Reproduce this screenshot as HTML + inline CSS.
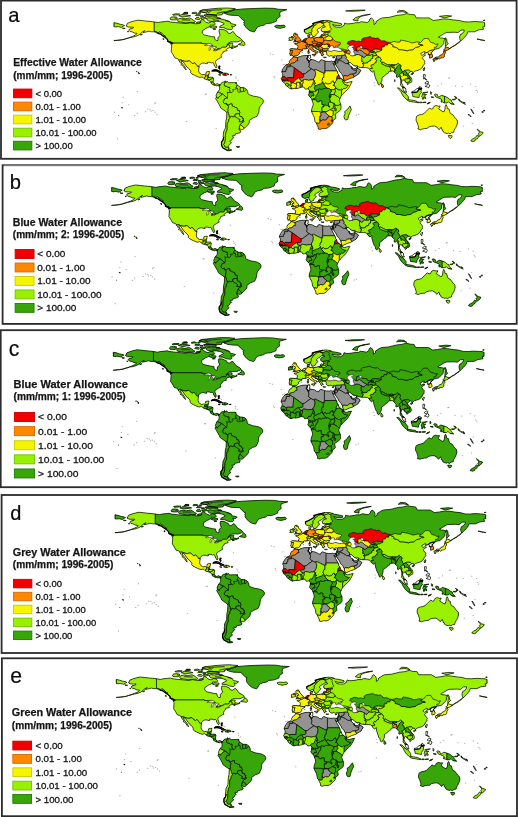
<!DOCTYPE html><html><head><meta charset="utf-8"><style>html,body{margin:0;padding:0;background:#fff;}svg{display:block;}.lt{font-family:"Liberation Sans",Arial,sans-serif;font-size:22px;fill:#0a0a0a;stroke:#0a0a0a;stroke-width:0.2px;}.tt{font-family:"Liberation Sans",Arial,sans-serif;font-size:10.3px;font-weight:bold;fill:#151515;stroke:#151515;stroke-width:0.25px;}.lg{font-family:"Liberation Sans",Arial,sans-serif;font-size:10px;fill:#151515;stroke:#151515;stroke-width:0.3px;}</style></head><body>
<svg width="518" height="817" viewBox="0 0 518 817">
<defs>
<path id="land" d="M-166.2 64.6 -163 64.5 -160.8 64.5 -161.5 63.5 -164.8 62.7 -165.5 61.5 -164.5 60.5 -162 59.8 -160 58.8 -157.5 58.5 -159 56.8 -162 55.5 -164.5 54.5 -162 54.8 -159 55.5 -156.5 56.5 -154 58.2 -153 59.5 -150 61.2 -151.8 59.2 -148 60 -146 60.6 -143.5 60 -141.3 60 -140 59.7 -138 59 -136.5 58.3 -135 58 -133 56.5 -131 55 -130 54.5 -128 52.5 -127.5 50.8 -125 50 -123 48.8 -124.7 48.4 -123.9 46.2 -124.1 44 -124.2 42 -124.4 40.4 -123.8 39.8 -122.5 37.8 -121.9 36.6 -120.6 34.5 -118.5 34 -117.3 33.2 -117.1 32.5 -115.8 30.4 -114.2 28.7 -115.1 27.9 -114.1 27.7 -112.2 25.9 -111.5 24.5 -109.9 22.9 -110.2 24.2 -111 25.8 -112.2 27.5 -113.5 29 -114.5 30.5 -114.8 31.8 -112.8 31.1 -111.5 29 -110 27 -109 25.6 -107.5 24.5 -106 22.8 -105.3 21.6 -105.6 20.4 -104.3 19.1 -102 17.9 -100.5 17.2 -98.5 16.3 -96.5 15.7 -94.5 16.2 -93.5 15.7 -92.3 14.5 -91.5 14 -90.1 13.8 -88.8 13.2 -87.5 12.9 -85.8 11.2 -85.7 9.9 -83.6 8.6 -82.9 8.2 -81.5 8 -80 7.4 -78.5 8.2 -77.9 7.2 -77.2 7.9 -77.4 8.7 -79.5 9.6 -81.5 9 -83 10 -83.7 11 -83.5 13 -83.2 15 -84 15.8 -86 15.9 -88.3 15.7 -88.2 16.2 -87.8 18.3 -87.4 20.2 -87.1 21.5 -89 21.4 -90.4 21 -90.5 19.5 -91.5 18.6 -92.5 18.6 -94.5 18.2 -95 18.6 -96.2 19.2 -97.2 20.5 -97.7 22 -97.6 24 -97.2 25.9 -97.3 27.4 -96.5 28.2 -95 29.2 -94 29.6 -92 29.6 -90.5 29.1 -89.2 29.1 -89.5 30.2 -88.5 30.4 -87 30.4 -85.4 29.7 -84 30.1 -82.8 29.1 -82.7 27.8 -81.8 26.4 -81.2 25.2 -80.4 25.2 -80.1 26.5 -80.6 28.4 -81.4 30.4 -81 31.9 -79.2 33.2 -78 33.9 -76.6 34.7 -75.5 35.2 -76 36.9 -75.9 37.2 -75.1 38.4 -74.9 38.9 -74 39.5 -74 40.6 -71.5 41.4 -70 41.8 -70.7 42.6 -70 43.7 -68.5 44.3 -67 44.8 -64.5 45.3 -66.2 44.7 -65.7 43.5 -63.5 44.5 -60 45.7 -60 46.9 -61.5 45.8 -64.5 46.2 -65 47.8 -64.5 48.8 -66 49.1 -68.5 48.5 -70.5 47.2 -68.5 49.2 -66.5 50.2 -64 50.2 -60 50.2 -57 51.4 -55.7 52.3 -57.5 54 -61 56 -62 57.5 -64.4 60.4 -65 59.8 -67.5 58.3 -69.5 59 -70 60.5 -71.5 61.2 -74 62.3 -77.5 62.5 -78 60.8 -77.5 58.5 -76.8 56.5 -79 54.5 -79 51.5 -80.6 51.3 -82 53 -82.3 55.1 -85 55.3 -88 56 -92.4 57 -94.2 58.8 -94 61.1 -90.7 63.3 -87 65 -86.5 66.5 -82.5 66.5 -81.5 67.5 -83 69.5 -85.5 69.8 -88 68.5 -91 69.5 -92.5 71 -94.5 72 -95.5 71.5 -96 69 -98 68 -101 67.8 -106 68.7 -110 68 -115 68.5 -120 69 -125 69.5 -127.5 70.3 -130 70 -134.5 69.5 -137 69 -141 69.6 -145 70.1 -148 70.3 -152 70.8 -156.8 71.3 -160 70.6 -163.5 69.6 -166.8 68.3 -168.1 65.6ZM-77.9 7.2 -77.3 6.5 -77.4 4 -78.5 2.5 -79.4 1.5 -80.1 0 -80.9 -2.2 -80.3 -3.4 -81.3 -4.7 -79.8 -7.2 -78.5 -9.5 -77.1 -12 -76.3 -14 -71.5 -17.3 -70.3 -18.4 -70.6 -23.5 -71.3 -27 -71.5 -30 -71.6 -33 -72.5 -35 -73.5 -37 -73.7 -39.5 -74 -42 -73.5 -42.5 -74 -45 -75.5 -47 -75.5 -50 -74.5 -52.5 -71 -54.5 -69.5 -55.3 -67.3 -55.5 -65.5 -54.8 -68.5 -53.5 -68.4 -52.3 -69 -51.6 -68.5 -50.2 -65.8 -47.8 -67.5 -46.3 -65.5 -45 -65 -43.5 -63.5 -42.7 -64 -42.2 -65 -41 -62.3 -40.5 -62 -39 -57.5 -38.1 -56.7 -36.4 -57.3 -36 -58.4 -34.6 -58.4 -34 -56.3 -34.9 -54.9 -34.9 -53.5 -33.8 -52 -32.2 -50 -30.5 -48.6 -28.5 -48.5 -26 -45 -23.7 -43.2 -23 -41 -22 -40.3 -20.3 -39.2 -17.8 -39 -15 -38.5 -13 -37 -11 -35.2 -9 -34.8 -7.1 -35.8 -5.2 -38.5 -3.7 -41.5 -2.9 -44.5 -2.5 -48.5 -1 -50 0 -50 1.8 -51.1 4 -52.5 5.2 -55 6 -57 6 -58.5 7 -60.5 8.5 -61 10 -62 10.7 -64 10.7 -66 10.6 -68.5 10.5 -70.2 12 -70.2 11.6 -71.6 10.8 -71.3 11.8 -71.9 12.4 -73 11.3 -74.5 11 -75.5 10.5 -76.5 8.5 -77.4 8.7ZM-5.9 35.8 -6.8 34 -8.5 33.2 -9.8 31 -9.6 30 -11 28.5 -12.9 27.9 -14.5 26.2 -16 24 -16.9 21.9 -17.05 20.8 -16.3 19.5 -16 18 -16.5 16.2 -17.5 14.7 -16.8 13 -16.7 12.3 -16.1 11.5 -15 10.9 -13.7 9.5 -13.1 8.2 -12.5 7.4 -11 6.5 -9.5 5.2 -7.5 4.4 -5 5.1 -3 5 -1 5.2 1 5.9 2.5 6.3 4.5 6.3 5.8 4.3 6.1 4.3 7.5 4.5 8.5 4.6 9.5 3.9 9.8 2.8 9.6 1 9.3 -0.5 8.8 -1.2 10 -3 11.8 -4.8 12.2 -6 13.2 -8.8 13.5 -11 12.2 -14.5 11.8 -17.3 13.5 -21 14.5 -22.9 15.2 -27 16.5 -28.6 17.3 -30.5 18.3 -32.5 18.4 -34.3 20 -34.8 22.5 -34 25.6 -34 27 -33.5 28.5 -32.5 30.5 -30.5 32.4 -28.5 32.9 -26 35.5 -24 35.3 -22 34.8 -19.8 36.5 -18.7 39.5 -16.5 40.5 -15 40.5 -11 39.3 -8 38.8 -6.5 39.7 -4.5 40.7 -2.3 42 -1 44 1.5 46.5 3.5 48 5.5 49.5 8 51.3 11.8 49 11.3 46 10.5 43.5 11.5 43.4 12.5 42 13.5 40.5 14.8 39 16 38.5 18 37.3 19.5 37.2 21 36.5 22.2 35.6 23.9 34.2 26.5 33.5 27.8 32.6 29.9 33.2 28.6 34.25 27.73 34.9 29.5 34.25 31.3 32.3 31.2 31 31.6 29.9 31.2 27 31.3 25.2 31.6 24 32.1 21.5 32.9 20.1 32 19.5 30.5 17.5 31 15.2 32.4 13.2 32.9 11.5 33.1 10.1 33.9 11 35.2 10.6 36.5 11.05 37.05 9.8 37.3 8.5 36.9 6.5 37 3.2 36.8 0 35.8 -1.8 35.1 -2.9 35.3 -5.3 35.9ZM-4.4 36.7 -2.2 36.7 -0.8 37.6 -0.5 38.3 0.2 38.7 -0.3 39.5 0 39.5 0.8 40.7 2.2 41.4 3.2 41.8 3.2 42.4 3 43 4 43.5 5.3 43.3 7 43.5 7.6 43.8 8.9 44.4 10 44 10.5 43.3 11 42.5 12.2 41.8 13 41.2 14.3 40.8 15.6 40 15.7 38.9 15.7 37.95 16.1 38 17.1 39 16.6 39.7 17.2 40.4 18.5 40.2 17.2 40.9 16.2 41.9 16 41.5 14.2 42.4 13.6 43.5 12.3 44.2 12.3 45.4 13.6 45.7 13.7 45.1 15 44.5 16 43.5 17.5 43 19 42.1 19.5 41.8 19.4 40.3 20.2 39.5 21 38.8 21.7 38.3 21.3 37.7 21.7 36.8 22.5 36.5 23 37.9 24 37.7 24 38 23 38.5 22.6 39.5 22.7 40.5 23.5 40.2 24 40.8 26 40.8 26.6 40.8 26.3 40.3 26.2 40 26.8 39.5 26.5 38.3 27.3 37.5 28 36.7 29.5 36.2 30.7 36.9 32 36.5 33 36.1 34.5 36.8 35.5 36.6 36.2 36.6 35.9 35.5 35.5 33.9 35 32.8 34.8 32.1 34.25 31.3 34.9 29.5 35 29.5 35.2 28 36.5 26 38 24 39.1 21.5 41 19.5 42.5 16.8 42.7 15.5 43.5 12.7 45 12.8 49 14.6 52.2 15.6 55.5 17.6 57.7 19 58.6 20.5 59.8 22.5 58.5 23.6 56.5 24.5 56.3 26.3 56 25.6 54.5 24.3 52.5 24.2 50.8 24.7 51.6 25.3 51 26.1 50.2 26 49.5 27 48.5 28 48 29.4 48.5 30 49.5 30.1 51 28.9 52.5 27.5 54.5 26.6 56.3 27.2 57.3 25.8 59 25.5 61.6 25.2 64.5 25.2 67 24.8 68.5 23.5 69 22.3 70.8 20.8 72.5 22.2 72.6 21.2 72.8 19 73.9 15.5 74.8 12.9 75.8 11.5 76.5 9 77.5 8.1 78.2 8.8 79.2 10.3 79.8 11.5 80.3 13.1 80.3 15.5 82.5 17 85 19.2 86.5 20 87 21.5 89 21.8 90.5 22 92 21.5 92.3 20.7 93.5 19.6 94.5 18.5 94.3 16 95.4 15.8 96.5 16.7 97.7 16 98.5 12.5 98.6 10 98.3 8 98.5 8 100.2 6.5 100.3 5.5 101.3 2.8 103.4 1.3 104.3 1.4 103.5 2.5 103.4 4.5 102.2 6.2 100.6 7 100.3 8.4 99.2 10.5 99.9 12.8 100.6 13.5 102.2 12.4 102.9 11.8 103.2 11 104.4 10.5 104.8 9.8 105 8.6 106.8 10 107 10.4 108.8 11 109.4 12.5 109.2 13.8 108.2 16 106.5 17.5 105.7 18.8 106 19.8 106.7 20.5 107.5 21 108.5 21.6 109.7 21.5 110.2 20.3 110.5 20.3 112 21.7 114.2 22.3 116 22.9 117.5 23.6 119.5 25.5 120.5 27.5 122 29.5 121.5 30 121.9 30.9 121.8 31.7 120.5 33 119.3 35 120.5 36 122.6 37.4 120.7 37.8 119 37.2 117.8 38.3 118 39 119.5 39.8 121 40.8 122.3 40.5 121.2 38.8 121.5 39 124.3 39.9 125.3 39.5 125 37.8 126.7 37.5 126.3 36 126.5 34.4 129 35.1 129.4 35.5 129.4 37 128 39.8 129.7 41 130.7 42.3 132 43.1 135.5 43.8 138.5 46.5 140.3 48.5 140.5 51 141.4 53.3 138.5 54 137 54 135 54.8 138 56.5 141 58.5 143.2 59.4 145 59.4 150.8 59.6 154 59.2 157 61.6 160 61.8 160 60.5 158 58 156.5 57.5 155.6 55 156 52.5 156.7 50.9 158.5 52.9 160 54.2 162 56.5 163 58 163.5 59.9 166 60 170 60 174 61.8 179 62.5 178 64.7 180 65 180 68.8 178 69.5 175 69.7 170 70 165 69.6 160 69.7 155 71 150 71.5 145 72.3 140 72.5 135 71.6 130 71 126 73.5 118 73.5 113.5 73.5 112 76.5 108 76.8 104.3 77.7 100 76.5 95 76 87 74 80.5 73.5 78 72.3 74.5 70 74.5 68.5 72.5 67 72.5 70 71.5 72 70 73.5 68.5 72.5 68 70.5 66 69 64 69.3 60.5 69.8 60 69.8 58 68.8 54.5 68.8 53 68.3 48 67.7 46 67.8 44 68.5 43.5 66.2 40.5 64.5 36.5 64.5 34 65 32.4 67.1 35 66.2 38.5 66 41.2 66.5 41 67.8 36 69 33 69.4 31 70.3 28 71 25.8 71.1 23.5 70.8 19 69.8 16 69 13 68 14 67.5 12.5 65.8 9 63.8 7.5 63 5 62 5 60.4 5.6 58.9 8 58.1 10.5 59.2 11.2 59 11.8 57.7 12.5 56.3 12.9 55.6 14.2 55.4 16 56.2 16.5 57.5 18.2 59.3 18.8 60 17.2 61 17.5 62.3 19 63.3 21 64.3 22 65.5 24 65.8 25.5 65 22.5 64 21.3 62.5 21.5 60.7 23 59.9 27 60.4 30.2 59.9 28 59.5 24.3 59.4 23.5 58.7 24.3 58 24.1 57 23.5 57 22 57.6 21 56.8 21 55.7 19.9 54.9 18.7 54.7 16 54.3 14.2 53.9 13 54.5 11 54 10 54.6 10 55.8 10.4 56.5 10.6 57.7 8.2 56.7 8.3 55.6 8.6 54 8 53.6 6.5 53.5 4.8 53 4 52 3.3 51.4 2.5 51.1 1.5 50.3 0 49.4 -1.6 49.7 -1.6 48.6 -3 48.8 -4.7 48.4 -2.5 47.3 -1.2 46 -1.8 43.4 -3 43.4 -5.7 43.6 -8 43.7 -9.3 43 -8.8 42 -8.9 40.2 -9.5 38.8 -8.8 38.7 -8.9 37 -7.4 37.2 -6.3 36.6 -5.6 36ZM-43 60.5 -42 62.5 -40.5 64.7 -38 65.6 -34 66.5 -32 68 -27.5 68.3 -24 69.5 -22 70.5 -21.8 72.5 -18.5 75 -19 77 -18.5 79.5 -12 81.5 -20 81.9 -25 82.8 -33 83 -45 82.6 -56 82.1 -64 81.2 -67 80 -73 78.5 -72.5 77.8 -68.7 76.5 -66 76 -59 75.8 -58 74.5 -56 72.8 -55 71.5 -53 70.5 -54 69.5 -53.5 68.5 -53.7 66.9 -51.7 64.2 -50 62.5 -48 61 -43.9 59.8ZM-21.5 63.8 -18.5 63.4 -14.5 64.3 -13.5 65.2 -15 66.5 -18 66.1 -22 66.4 -24 65.5 -22.5 64ZM-90 73 -89.5 71.5 -88 70.5 -84.5 70 -80 70.2 -76.5 69.6 -73.5 68.5 -73 67.5 -77 65.5 -77.5 64.3 -73.5 64 -70 62.5 -66 62 -64.8 63.2 -65 64.5 -66 65.5 -63.5 65 -61.3 66.6 -62 67 -66.5 68 -67 69.5 -69 70.5 -72 71.5 -76 72.5 -80 73.7 -85 73.2 -88 73.7ZM-75 77.5 -73 78.5 -69 80.2 -64 81.5 -62 82.5 -70 83.1 -78 82.9 -85 82.3 -94 81.3 -97 80 -91 78.5 -89.5 77 -83 76.4 -79.5 76.2 -75 76.5ZM-80 75.5 -82 76.2 -88 76.7 -92.5 76 -91 74.7 -84 74.5 -80 74.6ZM-100.9 70 -102.5 71 -104.5 72.5 -106.5 73.5 -110.5 72.7 -114 73.3 -117.5 72.5 -118.6 71.3 -117.5 69.8 -114 69.3 -110 68.6 -105.5 69.1 -101.5 69ZM-125 71.9 -122.5 71.5 -120 71.6 -118.5 72.5 -118.8 74.2 -121.5 74.5 -124.5 74.3 -125.5 72.5ZM-96.5 72.8 -97.5 73.8 -100 73.8 -101 72.4 -97 71.8ZM-90.2 73 -91 74 -96 73.5 -94 72.1ZM-108 76.2 -114 76.8 -117 75.5 -113 74.4 -105.5 75.5ZM-96 76.5 -100 76.8 -101 75.8 -97 75.5ZM-84 63.5 -80.5 63.8 -80.2 65.3 -84.5 65.7 -87 64.7ZM-59.3 47.6 -55.5 47 -53.5 46.7 -52.7 47.6 -53 49.5 -55.5 51.6 -56 49.5 -59.4 47.6ZM-124.5 49.5 -126.5 50.6 -128.3 50.8 -125 48.8 -123.3 48.4ZM-83 22 -81.5 22.1 -79.5 21.6 -77.7 20.7 -77.5 19.9 -75.5 19.9 -74.1 20.2 -75.5 20.7 -77.5 21.8 -80 23 -82 23.2 -84 22.7 -84.9 21.9ZM-74.4 18.1 -71.5 17.6 -70 18.2 -68.3 18.6 -69.9 19.7 -72.8 19.9 -74.5 18.4ZM-78.2 18.1 -76.4 17.8 -76.2 18.2 -78.3 18.4ZM-67.2 18 -65.7 18 -65.6 18.4 -67.2 18.5ZM48 -13.5 46.5 -15.6 44 -17.5 44.5 -19.5 43.3 -22 44 -24.8 45.1 -25.6 47 -25.1 48 -21 49.5 -17.5 50.5 -15.5 49.3 -12ZM-5.7 50.1 -3.5 50.3 -1 50.7 1.4 51.2 1.7 52.5 0.2 53.5 -0.1 54.5 -1.6 55.6 -2.1 57.2 -1.8 57.6 -4 57.6 -3 58.65 -5 58.6 -5.8 57 -5.5 56 -4.9 55.2 -3.5 54.9 -3.2 54.2 -3 53.4 -4.6 53.3 -4.2 52.6 -5.2 51.8 -3.2 51.4 -4.4 51.1ZM-6 52.2 -6.2 53.3 -5.5 54.5 -6.2 55.2 -7.3 55.4 -8.5 54.7 -10 54.2 -10 53 -9.3 52.6 -10.4 51.9 -9.5 51.5 -8 51.8ZM12.5 37.6 15.1 36.7 15.6 38.3 12.4 38ZM8.4 40 8.5 38.9 9.7 39.2 9.6 41.1 8.2 41ZM8.6 41.9 9.2 41.4 9.5 42.2 9.3 43ZM23.5 35.2 24.5 34.9 26.3 35.2 23.5 35.5ZM33 34.6 34 34.9 34.6 35.7 32.3 34.9ZM50 79.9 58 80.2 64 81 60 81.1 52 80.9 45 80.3ZM52 71.5 57 70.5 57 73 60 75 69 77 63 76.3 55 74 53 72.5ZM95 79 100 79.5 105 78.5 102 80.5 97 80.8ZM141 73.5 148 75.3 143 75.8 136 75ZM180 70.9 180 71.5 178.5 71ZM131.5 33.9 133 34.3 135 34.3 135.8 33.5 136.8 34 137 34.6 139 34.7 139.8 35 140.8 35.7 140.9 36.9 141 38.3 142 39.5 141.5 41.4 140 41.2 140 39.8 138.5 37.8 136.5 37.2 135.5 35.6 133 35.5 131.5 34.7 130.9 34ZM141.5 43.3 140 42.5 141 41.5 143.5 42 145.8 43.4 145.5 44.3 141.7 45.5ZM129.6 33.3 130.1 32.5 130.5 31 131.3 31.4 132 33 131 34 130 33.5ZM133 32.7 134.2 33.3 134.7 34 132.9 34 132.5 33.3ZM141.7 53.3 142.2 51.5 142 48 141.9 46 142.6 46.5 144.7 48.7 143.5 49.5 143.2 52.5 142 54.3ZM120.2 24 120.2 22.8 121 22 122 25 121.5 25.3ZM108.6 18.5 109.5 18.2 111 19.6 110.5 20.1 108.7 19.3ZM120.6 16 120.6 14.2 122 14.8 123.5 13.8 124 13 122 14 121.6 15.3 122.2 16.3 122.3 18.4 120.6 18.5ZM124 6.5 125.5 5.7 126.5 7.5 125.5 9.5 123.5 7.8 122 7ZM122 9.8 123 9.2 125 10 125.5 11.5 124 11.8 122 10.5ZM109 1.5 110 -1.5 110.2 -2.9 114 -3.5 116.2 -3.9 116.5 -2 117.5 0 118.8 1 118 2.3 119.2 5.3 117 6.9 115.5 5.2 113.8 4.5 111.5 2.5 109.6 2ZM98.5 2 99.5 0 101 -2.5 102.3 -4 104.5 -5.9 105.8 -5.8 106 -3.2 104.6 -1.5 103.7 0 100.5 2 97.5 5.2 95.3 5.6ZM106.5 -7.4 108 -7.8 111 -8.2 114.5 -8.7 114.4 -7.7 112.5 -6.9 110.5 -6.5 108.3 -6.2 106 -5.9 105.2 -6.8ZM114.6 -8.8 116 -8.9 116.2 -8.3 115 -8.1ZM116.8 -9 119 -8.8 119 -8.2 116.8 -8.3ZM119.8 -8.8 123 -8.7 123 -8.1 119.8 -8.4ZM124.2 -10.2 126 -9.4 127.3 -8.4 125.2 -9 124 -10ZM119.8 0 118.8 -2.8 119.5 -3.5 119.4 -5.4 120.4 -5.5 121 -3 122 -5 123 -4.5 121.5 -2 123.5 -0.9 120.5 -0.8 121.5 0.5 124.9 1.5 120 1ZM127.4 0 128 -0.8 128.5 1 127.5 2ZM128 -3.6 130.5 -3.9 130.5 -3.3 128 -3ZM132.5 -2.3 132 -2.8 133.5 -3.8 135 -4.3 137.7 -5.3 138.7 -7.2 137.5 -7 138 -8.4 139 -8.1 141 -9.1 143.5 -9 145 -8 147 -10 150.5 -10.5 148 -8 147.5 -6.2 145.8 -5.5 144 -3.8 141 -2.6 138 -1.7 135.5 -3.4 134.5 -2.8 134 -0.9 132 -0.4 131 -1.3ZM148.5 -6 151 -6.2 152.3 -4.8 152 -4.2 150.5 -5.5 148.5 -5.5ZM155 -6.8 157 -8.2 160 -10 161.5 -10.3 160 -9 157 -7.5 155 -6ZM167 -16 168.8 -19.2 169.5 -19.5 168.5 -17.5 167.5 -15.5 166.5 -15ZM164.2 -20.8 166.4 -22.3 167 -22.2 165 -20.5 164 -20.2ZM177.3 -18.2 178.6 -18.2 178.5 -17.3 177.3 -17.5ZM179 -16.9 180 -16.9 180 -16.1 178.8 -16.3ZM79.8 8 79.8 6.8 80.5 5.9 81.5 6.2 81.9 7.3 79.9 9.8ZM141.6 -12.5 141.5 -15 140.5 -17.6 139.3 -17.5 137.5 -16.3 135.4 -15 136 -13.5 136.8 -12 135 -12.2 133.5 -11.8 132.5 -11.6 130.8 -12.4 130.2 -13.3 129.5 -14.9 128.2 -15 126.5 -14 125 -15.5 123.5 -17 122.3 -18 121 -19.5 118.5 -20.3 116.5 -20.6 114.1 -21.8 113.8 -22.5 113.4 -24.5 113.5 -26.5 114.6 -28.5 115 -30 115.7 -31.8 115.7 -33.3 115.1 -34.3 117.8 -35.1 119 -34.5 121.8 -33.9 124 -33.8 126 -32.3 128.5 -31.7 131.5 -31.5 134.2 -33 135.6 -34.9 136 -34.8 137.8 -32.6 137.8 -33.2 138.5 -34.5 138.5 -35.5 139.5 -35.8 139.8 -37.3 141 -38.1 143.5 -38.8 144.6 -38.3 146.3 -39.1 148 -37.8 150 -37.5 150.2 -35.8 151.3 -33.9 152 -32.8 153 -30.5 153.6 -28.2 153.2 -25.5 151.5 -24 150.5 -22.5 148.8 -20.3 146.8 -19.3 146.5 -19 146 -17.5 145.4 -15 143.6 -14.5 143.5 -12.5 142.5 -10.7ZM145.5 -42.8 147 -43.6 148.3 -42.2 148.3 -40.9 144.6 -40.7ZM173 -35.2 174.5 -36.8 174.7 -38 173.8 -39.2 174.1 -39.5 174.7 -41.2 175.2 -41.6 176.5 -40.1 177.9 -39.1 178.5 -37.7 175.8 -37 174.5 -35.8 172.7 -34.4ZM172.1 -40.9 171.5 -41.8 170.5 -43 168.3 -44 167 -45 166.5 -46 169 -46.6 170.6 -45.9 171.2 -44.5 172.8 -43.8 173.5 -42.8 174.3 -41.5 172.7 -40.5ZM-156 19.7 -155.8 18.9 -155 19.8 -156 20.3ZM-60.5 -52.2 -58.3 -52.2 -58 -51.3 -61.3 -51.3ZM-180 65 -178.5 64.7 -176 65 -173 64.3 -171 65.4 -169.7 66.1 -171.5 66.9 -174 67.3 -177 68.3 -180 68.9ZM-122.5 76.1 -117 76.5 -116 77.3 -120 77.5 -123 76.8ZM-113 77.5 -108 77.8 -110 78.3 -113 78ZM-111 78.4 -108 78.5 -109 79 -112 78.8ZM-104 77.6 -99 78 -101 79 -104 78.6ZM-98 77.7 -95.5 78 -96 78.6 -98 78.5ZM-95 79 -91 78.8 -88.5 79.5 -90 80.5 -93 81.2 -96 80.5 -96.5 79.5ZM-96 74.8 -93 74.8 -93 75.6 -96 75.6ZM-100 68.5 -96 68.5 -95.5 69.5 -97 69.8 -99.5 69.3ZM-80 72.8 -76 72.8 -77.5 73.7 -80 73.5ZM-83.5 62.2 -81 62.5 -82 63 -83.5 62.8ZM-132.5 52.9 -131.5 52.2 -131.5 53.3 -132.5 53.2ZM-154 56.8 -152.5 57.4 -152.5 57.9 -154.5 57.2ZM-166 59.8 -165.8 60.4 -167 60.2ZM-171.5 63.3 -170.5 63 -169 63.3 -171.8 63.8ZM-77.8 25.2 -77 26.6 -77.5 26.8 -78.3 25.5ZM-78 24 -77.6 23.8 -77.2 24.9 -77.8 24.8ZM-61.9 10 -60.9 10.1 -61 10.8 -61.9 10.1ZM151.5 -3.8 152.7 -4.6 153.2 -4.8 152.5 -3.5 150.5 -2.6ZM154.6 -5.8 155.6 -6.9 155.9 -6.4 154.6 -5.2ZM-158.2 21.3 -157.7 21.3 -157.6 21.7 -158.3 21.6ZM-156.5 20.6 -156.1 20.6 -156 20.8 -156.7 20.9ZM145.8 43.6 147 44.2 148.9 45.5 150.5 46.3 152 47.2 153.5 48.4 155 49.4 156.3 50.6 155.8 50.7 154.5 49.6 153 48.6 151.5 47.4 150 46.5 148.5 45.6 146.8 44.4 145.6 43.8ZM-164.5 54.5 -166 54 -168 53.5 -170 52.8 -172 52.4 -174 52.1 -176 51.9 -178 51.7 -180 51.6 -180 51.4 -178 51.5 -176 51.7 -174 51.9 -172 52.2 -170 52.6 -168 53.3 -166 53.8 -164.6 54.3ZM180 51.6 178 52 176 52.3 173.5 52.9 172.5 53 172.6 52.8 174 52.7 176 52.1 178 51.8 180 51.4ZM92.5 11.7 92.8 11.5 93 13.2 92.6 13.6ZM159.5 -8.7 160.6 -9.2 160.8 -8.8 159.5 -8.2ZM-172.7 -13.8 -171.4 -13.9 -172.8 -13.5ZM-175.3 -21.3 -175 -21.2 -175.4 -21.1Z"/>
<clipPath id="lc"><use href="#land"/></clipPath>
<path id="thick" d="M-83 22 -81.5 22.1 -79.5 21.6 -77.7 20.7 -77.5 19.9 -75.5 19.9 -74.1 20.2 -75.5 20.7 -77.5 21.8 -80 23 -82 23.2 -84 22.7 -84.9 21.9ZM-77.8 25.2 -77 26.6 -77.5 26.8 -78.3 25.5ZM-78 24 -77.6 23.8 -77.2 24.9 -77.8 24.8Z"/>
<path id="dots" d="M-179.5 -18.4 -179.1 -18 -179.5 -17.6 -179.9 -18ZM-149.5 -18 -149.1 -17.6 -149.5 -17.2 -149.9 -17.6ZM-145 -15.9 -144.6 -15.5 -145 -15.1 -145.4 -15.5ZM-142 -16.9 -141.6 -16.5 -142 -16.1 -142.4 -16.5ZM-140 -18.4 -139.6 -18 -140 -17.6 -140.4 -18ZM-138 -20.4 -137.6 -20 -138 -19.6 -138.4 -20ZM-144 -17.4 -143.6 -17 -144 -16.6 -144.4 -17ZM-147 -15.4 -146.6 -15 -147 -14.6 -147.4 -15ZM-139.5 -9.4 -139.1 -9 -139.5 -8.6 -139.9 -9ZM-140.2 -10.2 -139.8 -9.8 -140.2 -9.4 -140.6 -9.8ZM-109.4 -27.5 -109 -27.1 -109.4 -26.7 -109.8 -27.1ZM-176.5 -44.4 -176.1 -44 -176.5 -43.6 -176.9 -44ZM-159.8 -21.6 -159.4 -21.2 -159.8 -20.8 -160.2 -21.2ZM-157.5 -19.4 -157.1 -19 -157.5 -18.6 -157.9 -19ZM-165.8 -11.3 -165.4 -10.9 -165.8 -10.5 -166.2 -10.9ZM-157.3 1.5 -156.9 1.9 -157.3 2.3 -157.7 1.9ZM-172 -9.4 -171.6 -9 -172 -8.6 -172.4 -9ZM-171 -3.9 -170.6 -3.5 -171 -3.1 -171.4 -3.5ZM169.5 -13.9 169.9 -13.5 169.5 -13.1 169.1 -13.5ZM173 1.1 173.4 1.5 173 1.9 172.6 1.5ZM172 2.6 172.4 3 172 3.4 171.6 3ZM166.5 8.8 166.9 9.2 166.5 9.6 166.1 9.2ZM171 6.6 171.4 7 171 7.4 170.6 7ZM158.2 6.5 158.6 6.9 158.2 7.3 157.8 6.9ZM151.8 7 152.2 7.4 151.8 7.8 151.4 7.4ZM145 14.6 145.4 15 145 15.4 144.6 15ZM145.7 14.8 146.1 15.2 145.7 15.6 145.3 15.2ZM138 9.1 138.4 9.5 138 9.9 137.6 9.5ZM134.5 7.1 134.9 7.5 134.5 7.9 134.1 7.5ZM167.9 -29.4 168.3 -29 167.9 -28.6 167.5 -29ZM159.1 -31.9 159.5 -31.5 159.1 -31.1 158.7 -31.5ZM-25.5 37.4 -25.1 37.8 -25.5 38.2 -25.9 37.8ZM-28 38.2 -27.6 38.6 -28 39 -28.4 38.6ZM-16.9 32.3 -16.5 32.7 -16.9 33.1 -17.3 32.7ZM-15.5 27.6 -15.1 28 -15.5 28.4 -15.9 28ZM-14 28 -13.6 28.4 -14 28.8 -14.4 28.4ZM-23.7 14.7 -23.3 15.1 -23.7 15.5 -24.1 15.1ZM-24.4 16.2 -24 16.6 -24.4 17 -24.8 16.6ZM-5.7 -16.3 -5.3 -15.9 -5.7 -15.5 -6.1 -15.9ZM55.5 -21.4 55.9 -21 55.5 -20.6 55.1 -21ZM57.6 -20.6 58 -20.2 57.6 -19.8 57.2 -20.2ZM73.3 7.1 73.7 7.5 73.3 7.9 72.9 7.5ZM72.6 10.1 73 10.5 72.6 10.9 72.2 10.5ZM72.4 -7.7 72.8 -7.3 72.4 -6.9 72 -7.3ZM-90.4 -0.9 -90 -0.5 -90.4 -0.1 -90.8 -0.5ZM-91.2 -1 -90.8 -0.6 -91.2 -0.2 -91.6 -0.6ZM-80.8 -34.1 -80.4 -33.7 -80.8 -33.3 -81.2 -33.7ZM-59.5 12.7 -59.1 13.1 -59.5 13.5 -59.9 13.1ZM-61.5 15.8 -61.1 16.2 -61.5 16.6 -61.9 16.2ZM-61.2 14.2 -60.8 14.6 -61.2 15 -61.6 14.6ZM-64.8 31.9 -64.4 32.3 -64.8 32.7 -65.2 32.3ZM14.4 35.5 14.8 35.9 14.4 36.3 14 35.9ZM3 39.2 3.4 39.6 3 40 2.6 39.6ZM2.8 39.5 3.2 39.9 2.8 40.3 2.4 39.9ZM-78.5 26.3 -78.1 26.7 -78.5 27.1 -78.9 26.7ZM-76.5 23.6 -76.1 24 -76.5 24.4 -76.9 24ZM-75 22.6 -74.6 23 -75 23.4 -75.4 23Z"/>
<path id="heavy" d="M-123 48.8 -125 50 -127.5 50.8 -128 52.5 -130 54.5 -131 55 -133 56.5 -135 58 -136.5 58.3 -138 59M5 60.4 5 62 7.5 63 9 63.8 12.5 65.8 14 67.5 13 68 16 69 19 69.8 23.5 70.8M-73.5 -42.5 -74 -45 -75.5 -47 -75.5 -50 -74.5 -52.5 -71 -54.5 -69.5 -55.3"/>
<path id="water" d="M28 41.3 29 41.2 31.5 41.2 33.5 42 35.5 41.7 38 41 40 41 41.5 41.5 41.7 42.3 40 43.4 38.5 44.3 37.5 44.7 36.5 45.2 35.5 45 33.5 44.4 32.5 45.3 33.5 46 31.5 46.6 30.2 45.8 29.6 45 28.6 44 28 42.8ZM35 45.5 36.5 45.3 38.3 46.5 39.2 47.2 37.5 47 35.2 46.3ZM47.5 43 49 41.7 49.5 40.3 49 38.5 49 37.5 51 36.7 54 37 53.8 39 53 40 52.8 41.5 54.5 42 52.5 42.9 52.5 44.5 51 45 53 45.2 53 46.8 51 47 49 46.5 47.5 45.5 47 44ZM59 44.2 60.5 43.8 61.5 45 60.2 46.3 58.5 46ZM-90 46.6 -88 47 -86.5 46.4 -84.6 46.5 -85 48 -88 48.8 -89.5 48 -92.1 46.7ZM-87.8 42 -86.5 42.2 -86 44.5 -85 45.8 -86.5 45.8 -87.5 44.5ZM-84.5 45.5 -83.5 44 -82.4 43 -81.6 44.5 -80 45 -81.5 45.8 -84.5 46ZM-81 41.5 -78.9 42.6 -79 42.9 -81 42.5 -83.4 41.7ZM-79 43.2 -76.2 43.4 -76.3 44 -79.8 43.3ZM-92 76.35 -80 76.05 -80 76.3 -92 76.6ZM-88 78.4 -85.6 80.4 -86.2 80.4 -88.6 78.4ZM-80 77.8 -72 79.5 -72 79.8 -80 78.1ZM-90 80.5 -75 81.3 -75 81.6 -90 80.8ZM-72 70.8 -68 69.6 -67.8 69.9 -71.8 71.1ZM-84 71.5 -78 70.8 -78 71.1 -84 71.8ZM-114 71.5 -106 71.2 -106 71.5 -114 71.8ZM-121 73.2 -119.5 73 -119.5 73.3 -121 73.5Z"/>
<path id="k_CAN" d="M-141 60.3 -139 60.1 -137.5 59 -135.5 59.8 -133.5 58.5 -131.5 56.5 -130 55.9 -130.7 54.7 -134 53 -126 48 -123.2 48.3 -123.3 49 -95.2 49 -95.2 49.4 -94.8 48.7 -91 48.2 -89.5 48 -88 48.2 -85 46.8 -84.4 46.5 -82.5 45.3 -82.4 43 -83 42.3 -81 42.2 -79 42.8 -79.2 43.4 -76.8 43.6 -76.2 44.2 -74.7 45 -71.5 45 -70.7 45.4 -70 46.7 -69.2 47.4 -67.8 47.1 -67.8 45.7 -66.9 44.6 -60 43 -50 45 -50 84 -141 84Z"/>
<path id="k_USA" d="M-125 30 -117.1 32.5 -114.7 32.7 -114.8 32.5 -111 31.3 -108.2 31.3 -108.2 31.8 -106.5 31.8 -104.5 29.6 -103 29 -102.4 29.8 -101.4 29.8 -100.3 28.3 -99.5 27.5 -99.1 26.5 -97.2 25.9 -80 24 -75 24 -60 40 -66.9 44.6 -67.8 45.7 -67.8 47.1 -69.2 47.4 -70 46.7 -70.7 45.4 -71.5 45 -74.7 45 -76.2 44.2 -76.8 43.6 -79.2 43.4 -79 42.8 -81 42.2 -83 42.3 -82.4 43 -82.5 45.3 -84.4 46.5 -85 46.8 -88 48.2 -89.5 48 -91 48.2 -94.8 48.7 -95.2 49.4 -95.2 49 -123.3 49 -123.2 48.25 -124.8 48.45 -130 47 -130 40Z"/>
<path id="k_USA_1" d="M-180 50 -134 53 -130.7 54.7 -130 55.9 -131.5 56.5 -133.5 58.5 -135.5 59.8 -137.5 59 -139 60.1 -141 60.3 -141 75 -180 75Z"/>
<path id="k_USA_2" d="M-161 18 -154 18 -154 23 -161 23Z"/>
<path id="k_MEX" d="M-125 30 -120 20 -95 10 -92.2 14.5 -92.2 15.3 -91.7 16.1 -90.4 16.1 -91.4 17.25 -90.98 17.25 -90.98 17.8 -89.15 17.8 -88.3 18.5 -87.5 18.5 -86 21.5 -90 26 -97.2 25.9 -99.1 26.5 -99.5 27.5 -100.3 28.3 -101.4 29.8 -102.4 29.8 -103 29 -104.5 29.6 -106.5 31.8 -108.2 31.8 -108.2 31.3 -111 31.3 -114.8 32.5 -114.7 32.7 -117.1 32.5Z"/>
<path id="k_GTM" d="M-92 12 -90.1 13.75 -89.35 14.4 -89.2 14.6 -88.2 15.7 -89.2 15.9 -89.15 17.8 -90.98 17.8 -90.98 17.25 -91.4 17.25 -90.4 16.1 -91.7 16.1 -92.2 15.3 -92.2 14.5Z"/>
<path id="k_BLZ" d="M-89.2 15.9 -87.5 16 -87.3 18.5 -88.3 18.5 -89.15 17.8Z"/>
<path id="k_HND" d="M-89.35 14.4 -88.5 13.9 -87.7 13.3 -87.3 13 -86.8 13.8 -85.7 13.9 -84.5 14.8 -83.2 15 -83 16.5 -87 17 -88.2 15.7 -89.2 14.6Z"/>
<path id="k_SLV" d="M-91 12.5 -88 12.5 -87.7 13.3 -88.5 13.9 -89.35 14.4 -90.1 13.75Z"/>
<path id="k_NIC" d="M-88 12.5 -86 10.5 -85.7 11.1 -83.7 10.9 -82 10.9 -82 15 -83.2 15 -84.5 14.8 -85.7 13.9 -86.8 13.8 -87.3 13 -87.7 13.3Z"/>
<path id="k_CRI" d="M-86 10.5 -86 8 -82.9 8 -82.6 9.6 -82 10.9 -83.7 10.9 -85.7 11.1Z"/>
<path id="k_PAN" d="M-82.9 8 -78 6 -77.9 7.2 -77.15 7.9 -77.4 9.6 -82 10.9 -82.6 9.6Z"/>
<path id="k_CUB" d="M-85.5 21 -78 19.5 -74 19.6 -74 20.5 -80 23.8 -85 23.5 -85.5 21.5Z"/>
<path id="k_HTI" d="M-71.7 17.5 -71.7 20.2 -75 20.2 -75 17.5Z"/>
<path id="k_DOM" d="M-68 17.5 -68 20.2 -71.7 20.2 -71.7 17.5Z"/>
<path id="k_JAM" d="M-76 17.6 -76 18.7 -78.6 18.7 -78.6 17.6Z"/>
<path id="k_PRI" d="M-65.3 17.8 -65.3 18.7 -67.5 18.7 -67.5 17.8Z"/>
<path id="k_GRL" d="M-68 75.5 -64 73.5 -61 70 -58.5 66.5 -55 62 -45 59 -10 59 -10 85 -58 85 -58 82.6 -63.5 81.3 -66.5 80.1 -72 78.5 -75 77.3Z"/>
<path id="k_ISL" d="M-25 62.5 -12 62.5 -12 67 -25 67Z"/>
<path id="k_BRA" d="M-75 -2 -69.9 -4.2 -70.8 -4.3 -72.9 -5.2 -73.3 -6.6 -74 -7.5 -73.5 -9 -72.2 -10 -70.6 -9.5 -70.6 -11 -69.5 -11 -68.6 -11 -66.5 -9.9 -65.3 -10 -65.3 -11.9 -64.3 -12.5 -63.5 -12.6 -62 -13.5 -60.5 -13.8 -60.2 -15.1 -60.1 -16.3 -58.4 -16.3 -58.3 -17.5 -57.6 -18 -58.2 -19.8 -57.8 -22.1 -55.8 -22.3 -55.4 -24 -54.3 -24.1 -54.6 -25.6 -53.8 -27.1 -55.8 -28.3 -57.6 -30.2 -56 -30.9 -53.4 -33.7 -30 -35 -30 6 -75 6Z"/>
<path id="k_COL" d="M-77.4 9.6 -77.15 7.9 -77.9 7.2 -82 5 -82 1 -78.8 1.4 -77.4 0.8 -75.8 0.1 -75.2 -0.1 -73.5 -1.2 -72 -2.5 -70.5 -3.8 -69.9 -4.2 -69.5 -1 -69.9 1.7 -69.5 1 -66.9 1.2 -67.3 2.3 -67.8 4 -67.3 5 -67.8 6.3 -69.4 6.1 -70 6.9 -71 7 -72.4 7.4 -72.5 8.2 -73 9.2 -72.5 10 -72.2 11.1 -71.1 11.85 -71 13 -77 13Z"/>
<path id="k_VEN" d="M-71.1 11.85 -72.2 11.1 -72.5 10 -73 9.2 -72.5 8.2 -72.4 7.4 -71 7 -70 6.9 -69.4 6.1 -67.8 6.3 -67.3 5 -67.8 4 -67.3 2.3 -66.9 1.2 -65.5 0.9 -64 2.4 -64.8 4 -64 4.1 -62.7 4 -60.1 5.2 -60.8 5.2 -61.4 5.9 -60.7 7.5 -59.8 8.4 -58 9.5 -60 13 -70 13Z"/>
<path id="k_GUY" d="M-59.8 8.4 -60.7 7.5 -61.4 5.9 -60.8 5.2 -60.1 5.2 -59.8 4.2 -59.5 3.5 -59.9 2.5 -59.7 1.8 -58.5 1.3 -56.5 1.9 -57.5 3.5 -57.2 5.2 -57.1 6 -57 9 -58 9.5Z"/>
<path id="k_SUR" d="M-57.1 6 -57.2 5.2 -57.5 3.5 -56.5 1.9 -55.9 1.9 -54.2 2.1 -54 3.6 -54.4 4.5 -54 5.7 -54 8 -57 8Z"/>
<path id="k_GUF" d="M-54 5.7 -54.4 4.5 -54 3.6 -54.2 2.1 -52.9 2.2 -52.3 3.2 -51.6 4.2 -50 6 -54 8Z"/>
<path id="k_ECU" d="M-83 2 -83 -3 -80.3 -3.4 -79.5 -4.5 -78.7 -4.6 -78.3 -3.5 -77 -2.5 -75.6 -1.5 -75.2 -0.1 -75.8 0.1 -77.4 0.8 -78.8 1.4Z"/>
<path id="k_PER" d="M-85 -5 -80 -20 -70.3 -18.4 -69.5 -17.2 -69 -16.2 -69.3 -15.3 -68.9 -14.2 -68.7 -12.5 -69.5 -11 -70.6 -11 -70.6 -9.5 -72.2 -10 -73.5 -9 -74 -7.5 -73.3 -6.6 -72.9 -5.2 -70.8 -4.3 -69.9 -4.2 -70.5 -3.8 -72 -2.5 -73.5 -1.2 -75.2 -0.1 -75.6 -1.5 -77 -2.5 -78.3 -3.5 -78.7 -4.6 -79.5 -4.5 -80.3 -3.4Z"/>
<path id="k_BOL" d="M-68.7 -12.5 -68.9 -14.2 -69.3 -15.3 -69 -16.2 -69.5 -17.2 -69.5 -17.5 -68.7 -19.4 -68.2 -21.3 -67.8 -22.8 -67.1 -22.7 -65.7 -22.1 -64.3 -22.8 -62.6 -22.2 -62.3 -20 -59.1 -19.3 -58.2 -19.8 -57.6 -18 -58.3 -17.5 -58.4 -16.3 -60.1 -16.3 -60.2 -15.1 -60.5 -13.8 -62 -13.5 -63.5 -12.6 -64.3 -12.5 -65.3 -11.9 -65.3 -10 -66.5 -9.9 -68.6 -11 -69.5 -11Z"/>
<path id="k_PRY" d="M-59.1 -19.3 -62.3 -20 -62.6 -22.2 -60 -24 -57.6 -25.4 -58.6 -27.3 -55.7 -27.4 -54.8 -26.7 -54.6 -25.6 -54.3 -24.1 -55.4 -24 -55.8 -22.3 -57.8 -22.1 -58.2 -19.8Z"/>
<path id="k_URY" d="M-58 -35.5 -54 -36 -53.4 -33.7 -56 -30.9 -57.6 -30.2 -58.4 -33.5Z"/>
<path id="k_CHL" d="M-80 -18 -80 -56 -67 -56.5 -68.6 -55 -68.6 -52.6 -69 -52.1 -72 -51.8 -72.5 -50.5 -73.5 -49.5 -72.5 -48 -72 -46.5 -71.7 -44 -71.8 -42 -71.5 -39.5 -71 -37 -70 -35 -70 -33 -70 -30.5 -69.7 -28.5 -68.5 -27 -68.5 -25 -67.3 -24 -67.1 -22.7 -67.8 -22.8 -68.2 -21.3 -68.7 -19.4 -69.5 -17.5 -70.3 -18.4Z"/>
<path id="k_ARG" d="M-67.3 -24 -68.5 -25 -68.5 -27 -69.7 -28.5 -70 -30.5 -70 -33 -70 -35 -71 -37 -71.5 -39.5 -71.8 -42 -71.7 -44 -72 -46.5 -72.5 -48 -73.5 -49.5 -72.5 -50.5 -72 -51.8 -69 -52.1 -68.6 -52.6 -68.6 -55 -60 -57 -50 -40 -58 -35.5 -58.4 -33.5 -57.6 -30.2 -55.8 -28.3 -53.8 -27.1 -54.6 -25.6 -54.8 -26.7 -55.7 -27.4 -58.6 -27.3 -57.6 -25.4 -60 -24 -62.6 -22.2 -64.3 -22.8 -65.7 -22.1 -67.1 -22.7Z"/>
<path id="k_FLK" d="M-62 -52.6 -57.5 -52.6 -57.5 -50.8 -62 -50.8Z"/>
<path id="k_RUS" d="M26 70 26 56 30 50 33 46 36 44 45 40 60 40 115 40 131 40 180 40 180 82 26 82Z"/>
<path id="k_RUS_1" d="M-180 62 -168 62 -168 72 -180 72Z"/>
<path id="k_USA_e" d="M172 50 180 50 180 54.5 172 54.5Z"/>
<path id="k_PRT" d="M-10 42 -10 36 -7.4 37.2 -7.5 37.5 -7.3 38.2 -7 38.9 -7.4 39.3 -7 39.7 -6.9 41 -6.2 41.6 -6.6 41.9 -8.2 42.1 -8.9 41.9Z"/>
<path id="k_ESP" d="M-10 42 -8.9 41.9 -8.2 42.1 -6.6 41.9 -6.2 41.6 -6.9 41 -7 39.7 -7.4 39.3 -7 38.9 -7.3 38.2 -7.5 37.5 -7.4 37.2 -5.6 35.95 -2 36.4 0 37 4.5 40 3.2 42.4 1.5 42.6 -0.5 42.8 -1.8 43.4 -10 44Z"/>
<path id="k_FRA" d="M-5 48.5 -1.8 43.4 -0.5 42.8 1.5 42.6 3.2 42.4 3.2 43 7.5 43.8 7 44.2 6.9 45 7 45.9 6 46.2 6.1 46.5 7 47.4 7.6 47.6 7.5 48.3 8.2 49 6.4 49.5 5.8 49.5 4.8 50 4.2 50.3 2.6 51.1 1 51 -5 49Z"/>
<path id="k_BEL" d="M2.6 51.1 4.2 50.3 4.8 50 5.8 49.5 6.1 50.1 6.4 50.3 6 50.8 5.8 51.2 5 51.4 4.2 51.4 3.4 51.4Z"/>
<path id="k_LUX" d="M5.8 49.5 6.4 49.5 6.5 49.8 6.1 50.1Z"/>
<path id="k_NLD" d="M3.4 51.4 4.2 51.4 5 51.4 5.8 51.2 6 50.8 6.2 51.4 6.9 52.2 7.1 53.3 6 54 3 53Z"/>
<path id="k_DEU" d="M6 50.8 6.4 50.3 6.1 50.1 6.5 49.8 6.4 49.5 8.2 49 7.5 48.3 7.6 47.6 8.6 47.7 9.6 47.5 10.5 47.5 12.2 47.7 13 47.5 13 48.2 13.8 48.8 12.5 49.8 12.1 50.3 14.3 51 15 51 14.7 52.1 14.2 53.3 14.2 54.2 11 54.8 9.9 54.8 8.6 54.9 7 54 7.1 53.3 6.9 52.2 6.2 51.4Z"/>
<path id="k_DNK" d="M8.6 54.9 9.9 54.8 11 54.8 12.8 55.3 12.8 56.3 10.9 58 7.8 57.3 7.8 55.3Z"/>
<path id="k_CHE" d="M6 46.2 7 45.9 8.4 46.3 9 45.8 10.2 46.2 10.5 46.9 9.6 47.5 8.6 47.7 7.6 47.6 7 47.4 6.1 46.5Z"/>
<path id="k_AUT" d="M9.6 47.5 10.5 46.9 12.2 47 12.4 46.7 13.7 46.5 15 46.6 16.1 46.8 17 48 16.9 48.6 15 49 13.8 48.8 13 48.2 13 47.5 12.2 47.7 10.5 47.5Z"/>
<path id="k_ITA" d="M7 45.9 6.9 45 7 44.2 7.5 43.8 7.8 41 7.8 38.5 12 36 16 36 19 40 19 41 13.6 45.5 13.6 46.5 12.4 46.7 12.2 47 10.5 46.9 10.2 46.2 9 45.8 8.4 46.3Z"/>
<path id="k_FRC" d="M8.4 41.3 9.7 41.3 9.7 43.1 8.4 43.1Z"/>
<path id="k_SVN" d="M15.4 45.5 15.6 46 16.6 46.5 16.1 46.8 15 46.6 13.6 46.5 13.6 45.5Z"/>
<path id="k_HRV" d="M14 44.5 16 43 18.5 42.5 17.6 43.4 16.5 44 15.8 44.7 15.8 45.2 17 45.2 19 44.9 19.4 45.2 18.8 45.9 17.7 45.9 16.6 46.5 15.6 46 15.4 45.5 13.5 45.4Z"/>
<path id="k_BIH" d="M15.8 44.7 16.5 44 17.6 43.4 18.5 42.5 18.7 43.2 19.2 43.5 19.6 44.1 19 44.9 17 45.2 15.8 45.2Z"/>
<path id="k_SRB" d="M19.4 45.2 19 44.9 19.6 44.1 19.2 43.5 18.7 43.2 18.5 42.5 18.5 42.3 19.4 41.9 20.5 42.3 21.5 42.2 22.4 42.3 23 42.5 22.4 43.2 22.9 44 22.5 44.6 21.5 45.2 20.3 46.1 18.8 45.9Z"/>
<path id="k_ALB" d="M18.5 41.8 18.5 40.5 20 39.6 20.7 40 21 40.6 20.6 41.1 20.5 42.3 19.4 41.9Z"/>
<path id="k_MKD" d="M20.6 41.1 21 40.9 22.9 41.3 23 41.5 22.4 42.3 21.5 42.2 20.5 42.3Z"/>
<path id="k_GRC" d="M19 39 19 37 28 35 26.4 40.6 26.6 41.4 26.3 41.7 25.3 41.3 24 41.5 22.9 41.3 21 40.9 21 40.6 20.7 40 20 39.6Z"/>
<path id="k_BGR" d="M23 41.5 22.9 41.3 24 41.5 25.3 41.3 26.3 41.7 27 42.1 28 42 29 42 28.6 43.8 27 44.1 25.5 43.7 24 43.7 22.9 44 22.4 43.2 23 42.5 22.4 42.3Z"/>
<path id="k_ROU" d="M20.3 46.1 21.5 45.2 22.5 44.6 22.9 44 24 43.7 25.5 43.7 27 44.1 28.6 43.8 29.7 45.3 28.2 45.5 28.1 46.9 26.7 48.3 24.9 47.7 23.2 48 22.9 47.9 22 47.4 21.2 46.3Z"/>
<path id="k_MDA" d="M28.1 46.9 28.2 45.5 28.9 46.4 30 46.6 29.2 47.9 27.5 48.5 26.7 48.3Z"/>
<path id="k_HUN" d="M16.1 46.8 16.6 46.5 17.7 45.9 18.8 45.9 20.3 46.1 21.2 46.3 22 47.4 22.9 47.9 22.2 48.4 20.7 48.6 18.8 47.8 17.2 48 17 48Z"/>
<path id="k_SVK" d="M17 48 17.2 48 18.8 47.8 20.7 48.6 22.2 48.4 22.5 49.1 21 49.5 19.3 49.5 18.5 49.5 17.1 48.8 16.9 48.6Z"/>
<path id="k_CZE" d="M12.1 50.3 12.5 49.8 13.8 48.8 15 49 16.9 48.6 17.1 48.8 18.5 49.5 18.5 49.9 17 50.3 16.3 50.7 15 51 14.3 51Z"/>
<path id="k_POL" d="M14.2 54.2 14.2 53.3 14.7 52.1 15 51 16.3 50.7 17 50.3 18.5 49.9 18.5 49.5 19.3 49.5 21 49.5 22.5 49.1 22.6 49.5 24 50.5 23.6 51.5 23.9 52.7 23.5 53.9 22.8 54.4 19.8 54.4 19 55Z"/>
<path id="k_RUK" d="M19.8 54.4 22.8 54.4 22.7 55 21 55.7 19 55Z"/>
<path id="k_LTU" d="M21 55.7 22.7 55 22.8 54.4 23.5 53.9 24.8 54 25.8 54.2 26.8 55.3 25.8 56.1 24 56.4 21 56.1Z"/>
<path id="k_LVA" d="M21 56.1 24 56.4 25.8 56.1 26.8 55.3 28.2 56.1 27.8 57.3 26.5 57.5 25.2 58 24.3 57.9 22 58 20 57Z"/>
<path id="k_EST" d="M22 58 24.3 57.9 25.2 58 26.5 57.5 27.8 57.3 28 59.5 22 60Z"/>
<path id="k_BLR" d="M23.5 53.9 23.9 52.7 23.6 51.5 24 51.6 25.5 51.9 27.5 51.5 30.6 51.3 31.8 52.1 31.5 53 32.8 53.3 31.8 54 30.8 55.6 28.2 56.1 26.8 55.3 25.8 54.2 24.8 54Z"/>
<path id="k_UKR" d="M22.2 48.4 22.9 47.9 23.2 48 24.9 47.7 26.7 48.3 27.5 48.5 29.2 47.9 30 46.6 28.9 46.4 29.7 45.3 31 45 33 44 36.5 44.5 38.2 47.1 39.8 47.8 40.1 48.3 39.7 49.6 38.2 50 35.5 50.4 34.3 51.2 33.2 52.4 31.8 52.1 30.6 51.3 27.5 51.5 25.5 51.9 24 51.6 23.6 51.5 24 50.5 22.6 49.5 22.5 49.1Z"/>
<path id="k_NOR" d="M4 58 8 57.5 11.5 58.9 11.8 59.8 12.5 60.5 12.2 61.5 12.3 63 14 64.5 13.8 65.5 15.5 66.2 16.5 67.5 18 68.5 20 69 21 69.2 22.5 68.7 24 68.6 25.5 69.2 27 69.9 28.5 69 29.5 69.5 31.5 70 30 72 10 72 3 62Z"/>
<path id="k_SWE" d="M10.5 57 11 55 17 55 19.5 59.5 20 63 24 65.8 23.7 66.5 23.5 68 20.5 69.1 20 69 18 68.5 16.5 67.5 15.5 66.2 13.8 65.5 14 64.5 12.3 63 12.2 61.5 12.5 60.5 11.8 59.8 11.5 58.9Z"/>
<path id="k_FIN" d="M20.5 69.1 23.5 68 23.7 66.5 24 65.8 20 63 20 60 23 59.7 28 60.5 30 61.5 31.5 62.8 30 64 30 65.5 29.2 66.8 30 67.7 28.7 68.9 28.5 69 27 69.9 25.5 69.2 24 68.6 22.5 68.7 21 69.2Z"/>
<path id="k_GBR" d="M-6.3 49.8 2 51 2 53 -1 56 -1 59 -8 59 -7 56 -5.2 55 -4.8 54 -5.5 51Z"/>
<path id="k_GBR_1" d="M-8.2 55.5 -8.2 54.4 -7.3 54.1 -6 53.9 -5.3 54.3 -5.8 55.3Z"/>
<path id="k_IRL" d="M-11 51 -5 51.5 -6 53.9 -7.3 54.1 -8.2 54.4 -8.2 55.5 -11 55.5Z"/>
<path id="k_CYP" d="M32 34.4 34.8 34.4 34.8 35.8 32 35.8Z"/>
<path id="k_TUR" d="M26.6 41.4 26.1 40.9 25 40 26 36 32 35.3 35.8 35.9 36.2 36.1 36.6 36.8 38 36.8 40 36.9 42.3 37.1 44.8 37.2 44.4 38.3 44.8 39.7 43.7 40.1 43.5 41.1 42.8 41.6 41.5 41.5 38 41.2 36 41.8 33 42.2 31 41.3 29 41.3 28 42 27 42.1 26.3 41.7Z"/>
<path id="k_GEO" d="M40 43.4 41.5 41.5 42.8 41.6 43.5 41.1 45 41.3 46.5 41 46.7 41.8 46.2 42 45.3 42.5 44 42.7 42.5 43.2Z"/>
<path id="k_ARM" d="M43.7 40.1 44.8 39.7 46.5 38.9 45.9 40 45.3 40.6 45 41.3 43.5 41.1Z"/>
<path id="k_AZE" d="M45.3 40.6 45.9 40 46.5 38.9 48 38.4 49 38.4 50.5 40.5 48.6 41.8 46.7 41.8 46.5 41 45 41.3Z"/>
<path id="k_SYR" d="M35.5 35 36 34.6 36.6 34.2 35.9 33.5 35.8 32.7 36 32.3 38.8 33.4 41.2 34.4 41.3 36.4 42.3 37.1 40 36.9 38 36.8 36.6 36.8 36.2 36.1 35.8 35.9Z"/>
<path id="k_LBN" d="M35.1 33.1 35.8 33.3 36.6 34.2 36 34.6 35.5 34.6 34.5 33.5Z"/>
<path id="k_ISR" d="M34.25 31.3 34.9 29.5 35.5 31.5 35.6 32.7 35.8 33.3 35.1 33.1 34 32Z"/>
<path id="k_JOR" d="M34.9 29.5 35 29.3 36.5 29.5 38 30.5 37 31.5 39 32.2 39.3 32.3 38.8 33.4 36 32.3 35.8 32.7 35.6 32.7 35.5 31.5Z"/>
<path id="k_IRQ" d="M41.3 36.4 41.2 34.4 38.8 33.4 39.3 32.3 42 31.1 44.7 29.2 46.5 29.1 47.7 30.1 48 29.4 48.5 30 47.9 31 47.6 32.3 46.2 33.2 45.5 34 46 35.1 45.5 35.9 44.8 37.2 42.3 37.1Z"/>
<path id="k_KWT" d="M48.4 28.5 48.6 28.5 48.6 29.5 48 29.4 47.7 30.1 46.5 29.1Z"/>
<path id="k_SAU" d="M38 22 42.8 16.4 43.4 17.5 46.3 17.3 47 17 49 18.6 52 19 55 20 55.6 21.8 55.2 22.7 52.6 22.9 51.6 24.3 51 24.5 50 27 48.4 28.5 46.5 29.1 44.7 29.2 42 31.1 39.3 32.3 39 32.2 37 31.5 38 30.5 36.5 29.5 35 29.3 34.5 28Z"/>
<path id="k_YEM" d="M42 12.5 45 11.5 53 15 53.1 16.6 52 19 49 18.6 47 17 46.3 17.3 43.4 17.5 42.8 16.4Z"/>
<path id="k_OMN" d="M55.6 21.8 55 20 52 19 53.1 16.6 55 16.5 58 19 60 23 57.5 24.5 56.4 24.9 55.8 24 55.2 22.7Z"/>
<path id="k_OMN_1" d="M56 25.8 56.6 25.8 56.6 26.6 56 26.6Z"/>
<path id="k_ARE" d="M51.6 24.3 52.6 22.9 55.2 22.7 55.8 24 56.4 24.9 56.3 25.7 55 26 51.5 24.1Z"/>
<path id="k_QAT" d="M50.7 24.6 51.7 24.6 51.7 26.2 50.7 26.2Z"/>
<path id="k_IRN" d="M44.4 38.3 44.8 37.2 45.5 35.9 46 35.1 45.5 34 46.2 33.2 47.6 32.3 47.9 31 48.5 30 50 28 56.3 26.4 58 24 61.6 25.2 62.8 28.2 61 29.3 62.7 29.4 61.7 31.3 60.6 31.4 60.9 33.5 60.5 34.3 61 35.6 61.2 36.6 60.3 36.6 59 37.5 57.5 37.9 56 38 54 37.3 54 37 51 36.7 49 38.4 48 38.4 46.5 38.9 44.8 39.7Z"/>
<path id="k_AFG" d="M61 35.6 60.5 34.3 60.9 33.5 60.6 31.4 61.7 31.3 62.7 29.4 64.3 29.5 66.4 29.9 66.7 31 68 31.5 69.3 31.9 69.6 33 70 34 71.6 34.3 71.2 35.4 71.6 36.4 74.5 37 74.9 37.2 72 36.7 71.3 37 71.5 37.9 70.2 37.9 69.4 37.3 67.8 37.2 67 37.4 65.7 37.5 64.5 36.3 63.5 35.6 62.3 35.1 61.2 36.6Z"/>
<path id="k_PAK" d="M60 24 66 22 68.2 23.7 68.8 24.3 71 24.4 70.5 25.7 69.5 26.7 70.2 27.9 71.9 27.9 73.4 29.9 74.5 30 74.6 31.1 75.4 32.3 74.6 32.5 73.9 33.5 74.5 34.6 76 34.8 77.8 35.5 75.5 36.8 74.5 37 71.6 36.4 71.2 35.4 71.6 34.3 70 34 69.6 33 69.3 31.9 68 31.5 66.7 31 66.4 29.9 64.3 29.5 62.7 29.4 61 29.3 62.8 28.2 61.6 25.2Z"/>
<path id="k_TKM" d="M52 38 53.9 37.5 54 37.3 56 38 57.5 37.9 59 37.5 60.3 36.6 61.2 36.6 62.3 35.1 63.5 35.6 64.5 36.3 65.7 37.5 66.6 37.4 65.5 38.2 64 38.9 62.3 40 61 41.2 60 42 58.5 42.5 57 41.3 56 41.3 54.3 42.3 53 42.1 52.5 41.7Z"/>
<path id="k_KAZ" d="M48.6 47.5 49.2 46.3 50 44 52.5 41.7 53 42.1 54.3 42.3 56 41.3 56 45 58.5 45.6 62 43.5 64 43.4 65.8 43.3 66.5 42 68.5 40.7 70.9 42.3 71.5 42.8 74.2 43.2 76 43 79 42.8 80.2 42.2 80 45 82.5 45.5 83 47.2 85.5 47 86 48.5 87.3 49.1 86.8 49.8 85 50 83.4 51 82 51.3 80 51 78 52.5 76.5 54 73.5 53.4 73.4 54 71 54.1 69 55.4 65.5 54.5 62 53.9 61 52.9 60.5 52 61.4 51 59.5 50.6 57.5 51 55.5 50.6 53.5 51.3 50.8 51.6 48.7 50.6 47.5 50.4 46.5 48.4Z"/>
<path id="k_UZB" d="M57 41.3 58.5 42.5 60 42 61 41.2 62.3 40 64 38.9 65.5 38.2 66.6 37.4 67 37.4 67.8 37.2 67.5 37.4 67.7 39.5 68.5 39.5 69.3 40.2 70.5 40.5 71.5 40.2 73.1 40.9 71.7 41.5 70.5 41.5 70.9 42.3 68.5 40.7 66.5 42 65.8 43.3 64 43.4 62 43.5 58.5 45.6 56 45 56 41.3Z"/>
<path id="k_KGZ" d="M70.9 42.3 70.5 41.5 71.7 41.5 73.1 40.9 71.5 40.2 70.5 40.5 69.5 40 71.5 39.6 73.6 39.4 75.5 40.6 76.5 40.4 78 41.1 80.2 42.2 79 42.8 76 43 74.2 43.2 71.5 42.8Z"/>
<path id="k_TJK" d="M69.4 37.3 70.2 37.9 71.5 37.9 71.3 37 72 36.7 74.9 37.2 74.9 38.5 73.6 39.4 71.5 39.6 69.5 40 69.3 40.2 68.5 39.5 67.7 39.5 67.5 37.4 67.8 37.2Z"/>
<path id="k_CHN" d="M73.6 39.4 74.9 38.5 74.9 37.2 75.5 36.8 77.8 35.5 78.5 34.6 79.5 33 79.2 32.5 78.8 31.2 80.2 30.3 81.5 30.4 84 28.8 86 28 88.2 27.9 89.5 28.2 91.7 27.8 94 28 96 29.4 97.4 28.2 98.5 27.6 98.7 25.9 97.6 24.8 98.8 24.1 99.5 22.1 100.2 21.5 101.2 21.4 101.8 22.4 102.2 22.4 103 22.6 104.5 22.8 106.7 22.8 108 21.6 112 17 125 25 123.5 39 124.3 39.9 126 41.4 128 42 130.6 42.4 131.2 43.5 131.1 45 133 45 134.7 48.3 132.5 47.7 130.7 48.9 127.5 49.8 125.5 53.2 123.5 53.5 121 53.3 120 52 117.8 49.5 116.7 49.8 115.5 48 117.4 47.7 119.7 47.2 119.9 46.7 117.4 46.6 116 45.5 113 44.8 111.5 43.6 110 42.6 107 42.4 105 41.6 100 42.6 96.4 42.7 95.5 44.2 93.5 45 90.7 45.7 91 46.8 90.1 47.9 88 48.6 87.3 49.1 86 48.5 85.5 47 83 47.2 82.5 45.5 80 45 80.2 42.2 78 41.1 76.5 40.4 75.5 40.6Z"/>
<path id="k_MNG" d="M87.3 49.1 88 48.6 90.1 47.9 91 46.8 90.7 45.7 93.5 45 95.5 44.2 96.4 42.7 100 42.6 105 41.6 107 42.4 110 42.6 111.5 43.6 113 44.8 116 45.5 117.4 46.6 119.9 46.7 119.7 47.2 117.4 47.7 115.5 48 116.7 49.8 114.3 50.3 110 49.2 108.5 49.3 106.5 50.3 102.2 51.3 98.3 52 97.8 50 94.5 50 92 50.7 90 50 88 49.5Z"/>
<path id="k_IND" d="M70 10 80 5 90 15 89 21.8 88.6 23 88.8 24.2 88.1 25.1 88.8 26.2 89.8 26 90 25.2 92.4 25 91.5 24.3 92.3 23.7 92.6 22 93.1 22.2 93.3 23.9 94 23.9 94.6 25.2 95.2 26.4 96.2 27.3 97.4 28.2 96 29.4 94 28 91.7 27.8 92.1 26.8 89.9 26.8 88.8 27.3 88.2 27.9 88.1 26.4 85 26.8 83 27.4 81.2 28.4 80.1 28.8 80.2 30.3 78.8 31.2 79.2 32.5 79.5 33 78.5 34.6 77.8 35.5 76 34.8 74.5 34.6 73.9 33.5 74.6 32.5 75.4 32.3 74.6 31.1 74.5 30 73.4 29.9 71.9 27.9 70.2 27.9 69.5 26.7 70.5 25.7 71 24.4 68.8 24.3 68.2 23.7Z"/>
<path id="k_NPL" d="M80.1 28.8 81.2 28.4 83 27.4 85 26.8 88.1 26.4 88.2 27.9 86 28 84 28.8 81.5 30.4 80.2 30.3Z"/>
<path id="k_BTN" d="M88.8 27.3 89.9 26.8 92.1 26.8 91.7 27.8 89.5 28.2Z"/>
<path id="k_BGD" d="M92.3 20.7 92.6 22 92.3 23.7 91.5 24.3 92.4 25 90 25.2 89.8 26 88.8 26.2 88.1 25.1 88.8 24.2 88.6 23 89 21.8Z"/>
<path id="k_LKA" d="M79 5.5 82.5 5.5 82.5 10 79 10Z"/>
<path id="k_IDN" d="M94 -2 105 -9 120 -11.5 141 -9.5 141 -2.5 128 4 119 4.2 119 6 94 6Z"/>
<path id="k_MMR" d="M92 20 93 15 97 10 98.5 9.9 98.7 10.4 99.2 12.7 99.1 13.9 98.2 15.1 98.9 16.4 97.4 18.5 97.8 18.5 98.9 19.8 100.1 20.4 100.2 21.5 99.5 22.1 98.8 24.1 97.6 24.8 98.7 25.9 98.5 27.6 97.4 28.2 96.2 27.3 95.2 26.4 94.6 25.2 94 23.9 93.3 23.9 93.1 22.2 92.6 22 92.3 20.7Z"/>
<path id="k_THA" d="M98.5 9.9 97.5 8 99 6.5 100.1 6.5 101.1 5.7 101.9 5.9 102.1 6.2 101 9 102.9 11.8 102.4 13.6 103 14.3 105.5 14.3 105.6 15.7 104.7 17.5 103 18 102.1 18.2 101 17.5 101.2 19.6 100.6 19.5 100.1 20.4 98.9 19.8 97.8 18.5 97.4 18.5 98.9 16.4 98.2 15.1 99.1 13.9 99.2 12.7 98.7 10.4Z"/>
<path id="k_LAO" d="M100.6 19.5 101.2 19.6 101 17.5 102.1 18.2 103 18 104.7 17.5 105.6 15.7 105.5 14.3 106 14.4 107.6 14.5 107.2 15 107.5 16 106.6 17 105.8 18.5 104.6 19.6 104.4 20.3 104.1 20.9 103 21.5 102.2 22.4 101.8 22.4 101.2 21.4 100.2 21.5 100.1 20.4Z"/>
<path id="k_VNM" d="M103 21.5 104.1 20.9 104.4 20.3 104.6 19.6 105.8 18.5 106.6 17 107.5 16 107.2 15 107.6 14.5 107.6 12.3 106.4 11.7 106.2 11 105.1 10.9 104.5 10.4 104 8 109 8 112 15 110 20 108 21.6 106.7 22.8 104.5 22.8 103 22.6 102.2 22.4Z"/>
<path id="k_KHM" d="M103 10 104.5 10.4 105.1 10.9 106.2 11 106.4 11.7 107.6 12.3 107.6 14.5 106 14.4 105.5 14.3 103 14.3 102.4 13.6 102.9 11.8Z"/>
<path id="k_MYS" d="M99.5 6 100 2.5 103.4 1 105 1 104 5 102.1 6.2 101.9 5.9 101.1 5.7 100.1 6.5Z"/>
<path id="k_MYS_1" d="M109.6 2 109.6 1.4 111 1 112.3 1.5 113.5 1.3 114.8 1.9 115.6 3.4 116 4.3 117.9 4.2 120 6 117 8 113 5 109 2.5Z"/>
<path id="k_PHL" d="M116 5 127 5 127 19.5 119 19.5Z"/>
<path id="k_TWN" d="M119.8 21.8 122.2 21.8 122.2 25.5 119.8 25.5Z"/>
<path id="k_PRK" d="M123.5 39 125 37.7 126.7 37.8 128.3 38.6 128 39.8 129.7 41 130.7 42.3 130.6 42.4 128 42 126 41.4 124.3 39.9Z"/>
<path id="k_KOR" d="M125 37.7 125.5 36 126 33.5 130 35 129.5 37.5 128.3 38.6 126.7 37.8Z"/>
<path id="k_JPN" d="M129.5 31 135 32.5 142 34.5 146 42.5 146 45.8 141 45.8 139.5 42 135.5 37.5 131 35 129.5 33.8Z"/>
<path id="k_PNG" d="M141 -9.5 160 -12 160 -2 141 -2.5Z"/>
<path id="k_TLS" d="M124.9 -9.6 127.5 -9.6 127.5 -8.3 124.9 -8.3Z"/>
<path id="k_AUS" d="M112 -44 154 -44 154 -10 112 -10Z"/>
<path id="k_NZL" d="M165 -47.5 179 -47.5 179 -34 165 -34Z"/>
<path id="k_SLB" d="M154.5 -11 162.5 -11 162.5 -5.5 154.5 -5.5Z"/>
<path id="k_VUT" d="M166 -20 170 -20 170 -14.5 166 -14.5Z"/>
<path id="k_NCL" d="M163.5 -22.8 168 -22.8 168 -19.8 163.5 -19.8Z"/>
<path id="k_FJI" d="M176.5 -19 180 -19 180 -15.5 176.5 -15.5Z"/>
<path id="k_MAR" d="M-15 36 -20 28 -13.2 27.67 -8.7 27.67 -8.7 28.7 -7.5 29.4 -5.5 29.7 -3.7 30.8 -3.5 31.6 -1.2 32.1 -1.8 33 -1.7 34.6 -1.8 35.1 -5.9 35.8Z"/>
<path id="k_ESH" d="M-13.2 27.67 -20 28 -20 21.3 -17.05 21.3 -13.1 21.3 -13 23 -12 23.5 -12 26 -8.7 26 -8.7 27.67Z"/>
<path id="k_DZA" d="M-1.7 34.6 -1.8 33 -1.2 32.1 -3.5 31.6 -3.7 30.8 -5.5 29.7 -7.5 29.4 -8.7 28.7 -8.7 27.67 -8.7 27.3 -6.7 26.1 -4.8 25 1.2 20.7 3.3 19 4.2 19.1 5.8 19.4 7.5 20.8 11.9 24 10 25.3 9.4 26.2 9.8 27.5 9.9 29.1 9.5 30.2 9 32.1 7.8 33.2 7.5 34.1 8.4 35.2 8.3 36 8.6 36.9 8.6 37.5 3 38 -1.8 35.1Z"/>
<path id="k_TUN" d="M8.3 36 8.4 35.2 7.5 34.1 7.8 33.2 9 32.1 9.5 30.2 10.3 31.7 11.5 33.2 11.5 37.5 8.6 37.5 8.6 36.9Z"/>
<path id="k_LBY" d="M10.3 31.7 9.5 30.2 9.9 29.1 9.8 27.5 9.4 26.2 10 25.3 11.9 24 14.2 22.6 15 23 16 23.4 24 19.5 24 20 25 22 25 30 25.2 31.6 25.2 33 12 35 11.5 33.2Z"/>
<path id="k_EGY" d="M25.2 31.6 25 30 25 22 31.3 22 36.9 22 37 23 34.9 29.5 34.25 31.3 34.25 33 25.2 33Z"/>
<path id="k_MRT" d="M-20 18 -16.5 16.2 -14.3 16.6 -12.2 14.7 -11.5 15.5 -5.3 15.5 -5.5 16.4 -4.8 25 -6.7 26.1 -8.7 27.3 -8.7 26 -12 26 -12 23.5 -13 23 -13.1 21.3 -17.5 21.3Z"/>
<path id="k_MLI" d="M-5.5 16.4 -5.3 15.5 -11.5 15.5 -12.2 14.7 -11.4 12.4 -10.7 12 -9.3 12.3 -8.3 11.3 -8.2 10.3 -7.6 10.2 -6.5 10.3 -5.5 10.4 -5.4 11.2 -4.4 12.5 -3 13.6 -2 14.2 -0.7 15.1 0.2 14.9 1.3 15.3 3.5 15.4 4.2 16.4 4.2 19.1 3.3 19 1.2 20.7 -4.8 25Z"/>
<path id="k_NER" d="M4.2 16.4 3.5 15.4 1.3 15.3 0.2 14.9 0.4 14 1 13 2.2 12.6 2.4 11.9 2.8 12.4 3.6 11.7 4.1 13.5 5.2 13.7 6.5 13.5 7.8 13.3 9 12.8 10.7 13.3 12.3 13.2 13.6 13.7 14.4 15 15.5 16.9 15.9 20.4 15 23 14.2 22.6 11.9 24 7.5 20.8 5.8 19.4 4.2 19.1Z"/>
<path id="k_TCD" d="M15.9 20.4 15.5 16.9 14.4 15 13.6 13.7 14.4 13.1 14.2 12.5 14.6 12.2 15.1 10.6 15.7 9.9 14 9.5 14.5 8.9 15.5 7.5 17 7.9 18.9 8.9 20.3 9.1 21.7 10.2 22.9 10.9 22.9 11.4 21.9 12.6 22.5 13.2 22.4 14 23 15.6 23.9 15.7 24 19.5 16 23.4 15 23Z"/>
<path id="k_SDN" d="M25 20 24 20 24 19.5 23.9 15.7 23 15.6 22.4 14 22.5 13.2 21.9 12.6 22.9 11.4 22.9 10.9 23.5 9 24 8.7 25 10.3 25.8 10.4 26.5 9.5 27.5 9.3 29.5 9.6 30.5 10 32 12 32.9 12.2 33.2 10.5 34.3 10.6 34.9 10.8 35.3 12 36.2 12.7 36.4 14.3 36.4 15 37 17.1 38.6 18 38 19 36.9 22 25 22Z"/>
<path id="k_SSD" d="M23.5 9 24.2 8.5 25.5 6.5 27.4 5.1 28 5 29.5 4.6 30.8 3.5 31 3.8 33.5 3.8 34 4.2 34.4 4.6 35.9 5 33.9 8 33 7.8 33.2 8.4 34 8.7 34.3 10.6 33.2 10.5 32.9 12.2 32 12 30.5 10 29.5 9.6 27.5 9.3 26.5 9.5 25.8 10.4 25 10.3 24 8.7Z"/>
<path id="k_ERI" d="M37 17.1 36.4 15 36.4 14.3 37.5 14.3 38.5 14.5 40 14.5 41.2 14.5 42.4 12.5 43.1 12.7 43.3 13.5 40 17 38.6 18Z"/>
<path id="k_DJI" d="M42.4 12.5 41.8 11.6 42.4 11.5 42.8 10.9 44 11.5 43.1 12.7Z"/>
<path id="k_ETH" d="M36.2 12.7 35.3 12 34.9 10.8 34.3 10.6 34 8.7 33.2 8.4 33 7.8 33.9 8 35.9 5 36.9 4.4 38.2 3.6 39.8 3.5 40.8 4.2 41.9 3.98 43 4.9 44 4.9 45 5 47.9 8 46.9 8 44 9 43.3 9.6 42.8 10.9 42.4 11.5 41.8 11.6 42.4 12.5 41.2 14.5 40 14.5 38.5 14.5 37.5 14.3 36.4 14.3Z"/>
<path id="k_SOM" d="M43.3 9.6 44 9 46.9 8 47.9 8 45 5 44 4.9 43 4.9 41.9 3.98 41 2.8 41 -1.7 41.5 -2 45 -1 50 4 52 10 51.5 12.5 44 11.5 42.8 10.9Z"/>
<path id="k_KEN" d="M41 -1.7 41 2.8 41.9 3.98 40.8 4.2 39.8 3.5 38.2 3.6 36.9 4.4 35.9 5 34.4 4.6 34.9 3 35 1.9 34.5 1.2 33.9 0.1 33.9 -1 37.6 -3.2 39.2 -4.7 42 -4.7Z"/>
<path id="k_UGA" d="M33.9 -1 33.9 0.1 34.5 1.2 35 1.9 34.9 3 34.4 4.6 34 4.2 33.5 3.8 31 3.8 30.8 3.5 31.2 2.2 30.4 1.2 29.9 0.5 29.6 -0.5 29.6 -1.4 30.5 -1.05 31.7 -1Z"/>
<path id="k_RWA" d="M29.2 -1.6 29 -2.8 29.9 -2.8 30.8 -2.4 30.9 -1.6 30.5 -1.05 29.6 -1.4Z"/>
<path id="k_BDI" d="M29.2 -3.3 29.4 -4.4 30 -4.3 30.8 -3.3 30.8 -2.4 29.9 -2.8 29 -2.8Z"/>
<path id="k_TZA" d="M33.9 -1 31.7 -1 30.5 -1.05 30.9 -1.6 30.8 -2.4 30.8 -3.3 30 -4.3 29.4 -4.4 29.5 -6 30.7 -8.3 32.9 -9.4 34 -9.5 34.6 -11.5 35.8 -11.4 37.5 -11.6 38.5 -11.3 40.4 -10.4 42 -10 42 -4.7 39.2 -4.7 37.6 -3.2Z"/>
<path id="k_COD" d="M30.8 3.5 29.5 4.6 28 5 27.4 5.1 25.5 5.3 24 4.8 22.9 4.8 22.3 4.1 20.5 4.4 19.5 5.1 18.6 3.6 18.6 2 17.7 0 16.2 -2 15.8 -3.9 15.2 -4.3 13.1 -4.9 12.2 -5.8 12.2 -6.1 13.2 -5.9 16.3 -5.9 16.6 -7.2 17.5 -8.1 19.4 -8 19.5 -7.1 20.6 -7.1 21.8 -7.3 21.8 -9.5 22.2 -11 23.9 -10.9 24.5 -11.5 25.9 -11.3 27.2 -11.6 28.2 -12.3 29 -13.4 29.6 -12.9 29.5 -12.3 28.6 -11.7 28.4 -9.2 28.9 -8.5 30.7 -8.3 29.5 -6 29.4 -4.4 29.2 -3.3 29 -2.8 29.2 -1.6 29.6 -1.4 29.6 -0.5 29.9 0.5 30.4 1.2 31.2 2.2Z"/>
<path id="k_CAF" d="M14.5 6.2 14.5 5.5 15 4 16.2 2.2 16.6 3.5 18.6 3.6 19.5 5.1 20.5 4.4 22.3 4.1 22.9 4.8 24 4.8 25.5 5.3 27.4 5.1 25.5 6.5 24.2 8.5 23.5 9 22.9 10.9 21.7 10.2 20.3 9.1 18.9 8.9 17 7.9 15.5 7.5Z"/>
<path id="k_CMR" d="M13.6 13.7 14.2 12 13.3 10.9 13.2 9.8 12.2 8.2 11.8 7 11.1 6.5 9.8 6.8 8.8 5.7 8.5 4.5 8 3 9.8 2.3 11.3 2.2 13.3 2.2 16 1.7 16.2 2.2 15 4 14.5 5.5 14.5 6.2 15.5 7.5 14.5 8.9 14 9.5 15.7 9.9 15.1 10.6 14.6 12.2 14.2 12.5 14.4 13.1Z"/>
<path id="k_NGA" d="M2 4 8 3 8.5 4.5 8.8 5.7 9.8 6.8 11.1 6.5 11.8 7 12.2 8.2 13.2 9.8 13.3 10.9 14.2 12 13.6 13.7 12.3 13.2 10.7 13.3 9 12.8 7.8 13.3 6.5 13.5 5.2 13.7 4.1 13.5 3.6 11.7 3.6 10.3 2.8 9 2.7 6.3Z"/>
<path id="k_BEN" d="M1.6 6.2 2.7 6.3 2.8 9 3.6 10.3 3.6 11.7 2.8 12.4 2.4 11.9 0.9 11 1.4 10 1.6 9 1.6 5Z"/>
<path id="k_TGO" d="M0.4 9.5 0.7 8 0.5 6.5 1.2 5 1.6 5 1.6 9 1.4 10 0.9 11 0.1 11.1Z"/>
<path id="k_GHA" d="M-3.2 4.5 1.2 5 1.2 6.1 0.5 6.5 0.7 8 0.4 9.5 0.1 11.1 -0.1 11.1 -2.8 11 -2.9 9.6 -2.5 8.2 -3.2 6.3Z"/>
<path id="k_CIV" d="M-7.6 4.3 -3.2 4.5 -3.2 6.3 -2.5 8.2 -2.9 9.6 -4.3 9.6 -5.5 10.4 -6.5 10.3 -7.6 10.2 -8.2 10.3 -8 9.4 -8.2 8.5 -7.9 7.6 -8.5 7.4 -8.4 6.4 -7.5 5.2Z"/>
<path id="k_BFA" d="M-5.5 10.4 -4.3 9.6 -2.9 9.6 -2.8 11 -0.1 11.1 0.1 11.1 0.9 11 2.4 11.9 2.2 12.6 1 13 0.4 14 0.2 14.9 -0.7 15.1 -2 14.2 -3 13.6 -4.4 12.5 -5.4 11.2Z"/>
<path id="k_LBR" d="M-12 5 -7.6 4.3 -7.5 5.2 -8.4 6.4 -8.5 7.4 -8.7 7.7 -9.5 8.5 -10.3 8.5 -10.7 8.3 -11.5 6.9Z"/>
<path id="k_SLE" d="M-14 7 -11.5 6.9 -10.7 8.3 -10.6 9.3 -11.2 10 -12.5 9.9 -13.3 9Z"/>
<path id="k_GIN" d="M-15 9.5 -13.3 9 -12.5 9.9 -11.2 10 -10.6 9.3 -10.7 8.3 -10.3 8.5 -9.5 8.5 -8.7 7.7 -8.5 7.4 -7.9 7.6 -8.2 8.5 -8 9.4 -8.2 10.3 -8.3 11.3 -9.3 12.3 -10.7 12 -11.4 12.4 -13.7 12.7 -15.2 10.9Z"/>
<path id="k_GNB" d="M-17 11 -15.2 10.9 -13.7 11.7 -13.7 12.7 -17 12.4Z"/>
<path id="k_SEN" d="M-18 13 -17 12.4 -13.7 12.7 -11.4 12.4 -12.2 14.7 -14.3 16.6 -16.5 16.2 -18 16.5Z"/>
<path id="k_GMB" d="M-17 13.2 -13.8 13.2 -13.8 13.6 -17 13.6Z"/>
<path id="k_GAB" d="M8 2 8 -2 11.1 -3.9 11.7 -3.2 12.4 -1.9 13.9 -2.4 14.4 -2 14.2 -0.9 13.3 1.2 11.3 1 11.3 2.2 9.8 2.3Z"/>
<path id="k_GNQ" d="M9.3 1 11.3 1 11.3 2.2 9.8 2.3Z"/>
<path id="k_COG" d="M11 -5 12.2 -5.8 13.1 -4.9 15.2 -4.3 15.8 -3.9 16.2 -2 17.7 0 18.6 2 18.6 3.6 16.6 3.5 16.2 2.2 16 1.7 13.3 2.2 13.3 1.2 14.2 -0.9 14.4 -2 13.9 -2.4 12.4 -1.9 11.7 -3.2 11.1 -3.9Z"/>
<path id="k_AGO" d="M10 -12 11.8 -17.3 14.2 -17.4 18.5 -17.4 20.9 -18 23.4 -17.6 22 -16.2 22 -13 24 -13 23.9 -10.9 22.2 -11 21.8 -9.5 21.8 -7.3 20.6 -7.1 19.5 -7.1 19.4 -8 17.5 -8.1 16.6 -7.2 16.3 -5.9 13.2 -5.9 12.2 -6.1Z"/>
<path id="k_ZMB" d="M22 -16.2 23.4 -17.6 25.3 -17.8 27.8 -17 29 -16 30.2 -15.6 33 -14 33.2 -12.3 33.7 -10.5 32.9 -9.4 30.7 -8.3 28.9 -8.5 28.4 -9.2 28.6 -11.7 29.5 -12.3 29.6 -12.9 29 -13.4 28.2 -12.3 27.2 -11.6 25.9 -11.3 24.5 -11.5 23.9 -10.9 24 -13 22 -13Z"/>
<path id="k_MWI" d="M33.7 -10.5 33.2 -12.3 33.2 -14 34.5 -14.5 34.3 -16 35.3 -17.1 35.9 -16.1 35.8 -14.5 34.6 -13.5 34.6 -11.5 34 -9.5 32.9 -9.4Z"/>
<path id="k_MOZ" d="M40.4 -10.4 38.5 -11.3 37.5 -11.6 35.8 -11.4 34.6 -11.5 34.6 -13.5 35.8 -14.5 35.9 -16.1 35.3 -17.1 34.3 -16 34.5 -14.5 33.2 -14 33 -14 30.2 -15.6 30.4 -16 32.9 -16.7 32.8 -18.5 32.9 -20.5 31.3 -22.4 32 -24.5 31.9 -25.9 32.1 -26.8 32.9 -26.9 42 -25 42 -10Z"/>
<path id="k_ZWE" d="M26.2 -19.6 27.7 -20.5 29.4 -22.2 31.3 -22.4 32.9 -20.5 32.8 -18.5 32.9 -16.7 30.4 -16 30.2 -15.6 29 -16 27.8 -17 25.3 -17.8Z"/>
<path id="k_NAM" d="M10 -17 10 -28 16.5 -28.6 17.5 -28.7 19.2 -28.9 20 -28.4 20 -24.8 20 -22 21 -22 21 -18.3 23.3 -18 24.3 -17.9 25.3 -17.8 23.4 -17.6 20.9 -18 18.5 -17.4 14.2 -17.4 11.8 -17.3Z"/>
<path id="k_BWA" d="M20 -24.8 20.7 -26.8 22 -26 23 -25.3 24.5 -25.8 25.8 -25.5 26.9 -24.6 28 -22.6 29.4 -22.2 27.7 -20.5 26.2 -19.6 25.3 -17.8 23.3 -18 21 -18.3 21 -22 20 -22Z"/>
<path id="k_ZAF" d="M15 -34 25 -38 35 -28 32.9 -26.9 32.1 -26.8 31.9 -25.9 32 -24.5 31.3 -22.4 29.4 -22.2 28 -22.6 26.9 -24.6 25.8 -25.5 24.5 -25.8 23 -25.3 22 -26 20.7 -26.8 20 -24.8 20 -28.4 19.2 -28.9 17.5 -28.7 16.5 -28.6Z"/>
<path id="k_LSO" d="M27.1 -30 27.7 -30.6 29 -30.3 29.4 -29.3 28.5 -28.6 27 -29.7Z"/>
<path id="k_SWZ" d="M30.8 -26.7 31.3 -27.3 32.1 -26.8 32 -25.9 30.8 -26Z"/>
<path id="k_MDG" d="M42 -26.5 51 -26.5 51 -11 42 -11Z"/>
</defs>
<rect width="518" height="817" fill="#fff"/>
<g transform="translate(299.3 93.6) scale(1.03 -1.03)">
<use href="#land" fill="#99f000"/>
<g clip-path="url(#lc)" stroke="#050505" stroke-width="0.614" stroke-linejoin="round">
<use href="#k_CAN" fill="#99f000"/>
<use href="#k_USA" fill="#f5f500"/>
<use href="#k_USA_1" fill="#f5f500"/>
<use href="#k_USA_2" fill="#f5f500"/>
<use href="#k_MEX" fill="#f5f500"/>
<use href="#k_GTM" fill="#f5f500"/>
<use href="#k_BLZ" fill="#f5f500"/>
<use href="#k_HND" fill="#99f000"/>
<use href="#k_SLV" fill="#99f000"/>
<use href="#k_NIC" fill="#99f000"/>
<use href="#k_CRI" fill="#99f000"/>
<use href="#k_PAN" fill="#99f000"/>
<use href="#k_CUB" fill="#fff" stroke-width="1.262"/>
<use href="#k_HTI" fill="#f00000"/>
<use href="#k_DOM" fill="#ff8800"/>
<use href="#k_JAM" fill="#99f000"/>
<use href="#k_PRI" fill="#fff" stroke-width="1.262"/>
<use href="#k_GRL" fill="#38a508"/>
<use href="#k_ISL" fill="#38a508"/>
<use href="#k_BRA" fill="#99f000"/>
<use href="#k_COL" fill="#99f000"/>
<use href="#k_VEN" fill="#99f000"/>
<use href="#k_GUY" fill="#99f000"/>
<use href="#k_SUR" fill="#99f000"/>
<use href="#k_GUF" fill="#99f000"/>
<use href="#k_ECU" fill="#99f000"/>
<use href="#k_PER" fill="#99f000"/>
<use href="#k_BOL" fill="#99f000"/>
<use href="#k_PRY" fill="#99f000"/>
<use href="#k_URY" fill="#f5f500"/>
<use href="#k_CHL" fill="#99f000"/>
<use href="#k_ARG" fill="#99f000"/>
<use href="#k_FLK" fill="#fff" stroke-width="1.262"/>
<use href="#k_RUS" fill="#99f000"/>
<use href="#k_RUS_1" fill="#99f000"/>
<use href="#k_USA_e" fill="#f5f500"/>
<use href="#k_PRT" fill="#ff8800"/>
<use href="#k_ESP" fill="#ff8800"/>
<use href="#k_FRA" fill="#ff8800"/>
<use href="#k_BEL" fill="#f00000"/>
<use href="#k_LUX" fill="#ff8800"/>
<use href="#k_NLD" fill="#f00000"/>
<use href="#k_DEU" fill="#ff8800"/>
<use href="#k_DNK" fill="#ff8800"/>
<use href="#k_CHE" fill="#ff8800"/>
<use href="#k_AUT" fill="#ff8800"/>
<use href="#k_ITA" fill="#ff8800"/>
<use href="#k_FRC" fill="#ff8800"/>
<use href="#k_SVN" fill="#f5f500"/>
<use href="#k_HRV" fill="#f5f500"/>
<use href="#k_BIH" fill="#99f000"/>
<use href="#k_SRB" fill="#ff8800"/>
<use href="#k_ALB" fill="#ff8800"/>
<use href="#k_MKD" fill="#ff8800"/>
<use href="#k_GRC" fill="#ff8800"/>
<use href="#k_BGR" fill="#ff8800"/>
<use href="#k_ROU" fill="#f5f500"/>
<use href="#k_MDA" fill="#f00000"/>
<use href="#k_HUN" fill="#f00000"/>
<use href="#k_SVK" fill="#ff8800"/>
<use href="#k_CZE" fill="#ff8800"/>
<use href="#k_POL" fill="#ff8800"/>
<use href="#k_RUK" fill="#99f000"/>
<use href="#k_LTU" fill="#f5f500"/>
<use href="#k_LVA" fill="#f5f500"/>
<use href="#k_EST" fill="#f5f500"/>
<use href="#k_BLR" fill="#f5f500"/>
<use href="#k_UKR" fill="#ff8800"/>
<use href="#k_NOR" fill="#99f000"/>
<use href="#k_SWE" fill="#f5f500"/>
<use href="#k_FIN" fill="#f5f500"/>
<use href="#k_GBR" fill="#ff8800"/>
<use href="#k_GBR_1" fill="#ff8800"/>
<use href="#k_IRL" fill="#f5f500"/>
<use href="#k_CYP" fill="#f5f500"/>
<use href="#k_TUR" fill="#f5f500"/>
<use href="#k_GEO" fill="#ff8800"/>
<use href="#k_ARM" fill="#ff8800"/>
<use href="#k_AZE" fill="#ff8800"/>
<use href="#k_SYR" fill="#939393"/>
<use href="#k_LBN" fill="#939393"/>
<use href="#k_ISR" fill="#939393"/>
<use href="#k_JOR" fill="#939393"/>
<use href="#k_IRQ" fill="#939393"/>
<use href="#k_KWT" fill="#939393"/>
<use href="#k_SAU" fill="#939393"/>
<use href="#k_YEM" fill="#ff8800"/>
<use href="#k_OMN" fill="#939393"/>
<use href="#k_OMN_1" fill="#939393"/>
<use href="#k_ARE" fill="#939393"/>
<use href="#k_QAT" fill="#939393"/>
<use href="#k_IRN" fill="#f5f500"/>
<use href="#k_AFG" fill="#99f000"/>
<use href="#k_PAK" fill="#f5f500"/>
<use href="#k_TKM" fill="#939393"/>
<use href="#k_KAZ" fill="#f00000"/>
<use href="#k_UZB" fill="#ff8800"/>
<use href="#k_KGZ" fill="#99f000"/>
<use href="#k_TJK" fill="#99f000"/>
<use href="#k_CHN" fill="#f5f500"/>
<use href="#k_MNG" fill="#f5f500"/>
<use href="#k_IND" fill="#99f000"/>
<use href="#k_NPL" fill="#99f000"/>
<use href="#k_BTN" fill="#38a508"/>
<use href="#k_BGD" fill="#f5f500"/>
<use href="#k_LKA" fill="#ff8800"/>
<use href="#k_IDN" fill="#99f000"/>
<use href="#k_MMR" fill="#38a508"/>
<use href="#k_THA" fill="#f5f500"/>
<use href="#k_LAO" fill="#38a508"/>
<use href="#k_VNM" fill="#99f000"/>
<use href="#k_KHM" fill="#99f000"/>
<use href="#k_MYS" fill="#fff" stroke-width="1.262"/>
<use href="#k_MYS_1" fill="#fff" stroke-width="1.262"/>
<use href="#k_PHL" fill="#fff" stroke-width="1.262"/>
<use href="#k_TWN" fill="#fff" stroke-width="1.262"/>
<use href="#k_PRK" fill="#f5f500"/>
<use href="#k_KOR" fill="#ff8800"/>
<use href="#k_JPN" fill="#ff8800"/>
<use href="#k_PNG" fill="#99f000"/>
<use href="#k_TLS" fill="#fff" stroke-width="1.262"/>
<use href="#k_AUS" fill="#f5f500"/>
<use href="#k_NZL" fill="#99f000"/>
<use href="#k_SLB" fill="#fff" stroke-width="1.262"/>
<use href="#k_VUT" fill="#fff" stroke-width="1.262"/>
<use href="#k_NCL" fill="#fff" stroke-width="1.262"/>
<use href="#k_FJI" fill="#fff" stroke-width="1.262"/>
<use href="#k_MAR" fill="#ff8800"/>
<use href="#k_ESH" fill="#939393"/>
<use href="#k_DZA" fill="#939393"/>
<use href="#k_TUN" fill="#fff" stroke-width="1.262"/>
<use href="#k_LBY" fill="#939393"/>
<use href="#k_EGY" fill="#939393"/>
<use href="#k_MRT" fill="#939393"/>
<use href="#k_MLI" fill="#f00000"/>
<use href="#k_NER" fill="#939393"/>
<use href="#k_TCD" fill="#f5f500"/>
<use href="#k_SDN" fill="#f5f500"/>
<use href="#k_SSD" fill="#f5f500"/>
<use href="#k_ERI" fill="#f00000"/>
<use href="#k_DJI" fill="#f5f500"/>
<use href="#k_ETH" fill="#99f000"/>
<use href="#k_SOM" fill="#f5f500"/>
<use href="#k_KEN" fill="#99f000"/>
<use href="#k_UGA" fill="#99f000"/>
<use href="#k_RWA" fill="#ff8800"/>
<use href="#k_BDI" fill="#99f000"/>
<use href="#k_TZA" fill="#99f000"/>
<use href="#k_COD" fill="#38a508"/>
<use href="#k_CAF" fill="#38a508"/>
<use href="#k_CMR" fill="#99f000"/>
<use href="#k_NGA" fill="#f5f500"/>
<use href="#k_BEN" fill="#f5f500"/>
<use href="#k_TGO" fill="#f5f500"/>
<use href="#k_GHA" fill="#f5f500"/>
<use href="#k_CIV" fill="#f5f500"/>
<use href="#k_BFA" fill="#f5f500"/>
<use href="#k_LBR" fill="#99f000"/>
<use href="#k_SLE" fill="#99f000"/>
<use href="#k_GIN" fill="#99f000"/>
<use href="#k_GNB" fill="#99f000"/>
<use href="#k_SEN" fill="#f00000"/>
<use href="#k_GMB" fill="#f00000"/>
<use href="#k_GAB" fill="#38a508"/>
<use href="#k_GNQ" fill="#38a508"/>
<use href="#k_COG" fill="#99f000"/>
<use href="#k_AGO" fill="#99f000"/>
<use href="#k_ZMB" fill="#99f000"/>
<use href="#k_MWI" fill="#99f000"/>
<use href="#k_MOZ" fill="#99f000"/>
<use href="#k_ZWE" fill="#f5f500"/>
<use href="#k_NAM" fill="#f5f500"/>
<use href="#k_BWA" fill="#939393"/>
<use href="#k_ZAF" fill="#ff8800"/>
<use href="#k_LSO" fill="#38a508"/>
<use href="#k_SWZ" fill="#99f000"/>
<use href="#k_MDG" fill="#99f000"/>
</g>
<use href="#heavy" fill="none" stroke="#000" stroke-width="1.165" stroke-linejoin="round" stroke-linecap="round"/>
<use href="#dots" fill="#8a8a8a" stroke="#8a8a8a" stroke-width="0.388"/>
<use href="#thick" fill="none" stroke="#000" stroke-width="0.971" stroke-linejoin="round"/>
<use href="#water" fill="#fff" stroke="#1e1e1e" stroke-width="0.534"/>
<use href="#land" fill="none" stroke="#000" stroke-width="0.667" stroke-linejoin="round"/>
</g>
<rect x="1" y="0.6" width="515.6" height="158.2" fill="none" stroke="#2b2b2b" stroke-width="1.8"/>
<text class="lt" x="8.2" y="21.6" style="font-size:20.2px">a</text>
<text class="tt" x="13.2" y="65.6" textLength="128.5" lengthAdjust="spacingAndGlyphs">Effective Water Allowance</text>
<text class="tt" x="13.2" y="78.5" textLength="99.3" lengthAdjust="spacingAndGlyphs">(mm/mm; 1996-2005)</text>
<rect x="13.55" y="89.05" width="18.3" height="8.7" fill="#f00000" stroke="#c80000" stroke-width="0.9"/>
<text class="lg" x="35.5" y="96.6" style="font-size:9.00px" textLength="26.62" lengthAdjust="spacingAndGlyphs">&lt; 0.00</text>
<rect x="13.55" y="102.1" width="18.3" height="8.7" fill="#ff8800" stroke="#d86800" stroke-width="0.9"/>
<text class="lg" x="35.5" y="109.65" style="font-size:9.00px" textLength="45.32" lengthAdjust="spacingAndGlyphs">0.01 - 1.00</text>
<rect x="13.55" y="115.15" width="18.3" height="8.7" fill="#f5f500" stroke="#c8c800" stroke-width="0.9"/>
<text class="lg" x="35.5" y="122.7" style="font-size:9.00px" textLength="50.59" lengthAdjust="spacingAndGlyphs">1.01 - 10.00</text>
<rect x="13.55" y="128.2" width="18.3" height="8.7" fill="#99f000" stroke="#70c000" stroke-width="0.9"/>
<text class="lg" x="35.5" y="135.75" style="font-size:9.00px" textLength="61.14" lengthAdjust="spacingAndGlyphs">10.01 - 100.00</text>
<rect x="13.55" y="141.25" width="18.3" height="8.7" fill="#38a508" stroke="#207a00" stroke-width="0.9"/>
<text class="lg" x="35.5" y="148.8" style="font-size:9.00px" textLength="37.16" lengthAdjust="spacingAndGlyphs">&gt; 100.00</text>
<g transform="translate(297 258.4) scale(1.03 -1.03)">
<use href="#land" fill="#38a508"/>
<g clip-path="url(#lc)" stroke="#050505" stroke-width="0.614" stroke-linejoin="round">
<use href="#k_CAN" fill="#38a508"/>
<use href="#k_USA" fill="#99f000"/>
<use href="#k_USA_1" fill="#99f000"/>
<use href="#k_USA_2" fill="#99f000"/>
<use href="#k_MEX" fill="#f5f500"/>
<use href="#k_GTM" fill="#99f000"/>
<use href="#k_BLZ" fill="#f5f500"/>
<use href="#k_HND" fill="#99f000"/>
<use href="#k_SLV" fill="#99f000"/>
<use href="#k_NIC" fill="#99f000"/>
<use href="#k_CRI" fill="#38a508"/>
<use href="#k_PAN" fill="#38a508"/>
<use href="#k_CUB" fill="#fff" stroke-width="1.262"/>
<use href="#k_HTI" fill="#38a508"/>
<use href="#k_DOM" fill="#f5f500"/>
<use href="#k_JAM" fill="#38a508"/>
<use href="#k_PRI" fill="#fff" stroke-width="1.262"/>
<use href="#k_GRL" fill="#38a508"/>
<use href="#k_ISL" fill="#38a508"/>
<use href="#k_BRA" fill="#38a508"/>
<use href="#k_COL" fill="#38a508"/>
<use href="#k_VEN" fill="#38a508"/>
<use href="#k_GUY" fill="#38a508"/>
<use href="#k_SUR" fill="#38a508"/>
<use href="#k_GUF" fill="#38a508"/>
<use href="#k_ECU" fill="#38a508"/>
<use href="#k_PER" fill="#38a508"/>
<use href="#k_BOL" fill="#38a508"/>
<use href="#k_PRY" fill="#38a508"/>
<use href="#k_URY" fill="#38a508"/>
<use href="#k_CHL" fill="#38a508"/>
<use href="#k_ARG" fill="#38a508"/>
<use href="#k_FLK" fill="#fff" stroke-width="1.262"/>
<use href="#k_RUS" fill="#38a508"/>
<use href="#k_RUS_1" fill="#38a508"/>
<use href="#k_USA_e" fill="#99f000"/>
<use href="#k_PRT" fill="#f5f500"/>
<use href="#k_ESP" fill="#f5f500"/>
<use href="#k_FRA" fill="#f5f500"/>
<use href="#k_BEL" fill="#ff8800"/>
<use href="#k_LUX" fill="#f5f500"/>
<use href="#k_NLD" fill="#f00000"/>
<use href="#k_DEU" fill="#f5f500"/>
<use href="#k_DNK" fill="#38a508"/>
<use href="#k_CHE" fill="#f5f500"/>
<use href="#k_AUT" fill="#f5f500"/>
<use href="#k_ITA" fill="#f5f500"/>
<use href="#k_FRC" fill="#f5f500"/>
<use href="#k_SVN" fill="#99f000"/>
<use href="#k_HRV" fill="#99f000"/>
<use href="#k_BIH" fill="#99f000"/>
<use href="#k_SRB" fill="#99f000"/>
<use href="#k_ALB" fill="#99f000"/>
<use href="#k_MKD" fill="#99f000"/>
<use href="#k_GRC" fill="#f5f500"/>
<use href="#k_BGR" fill="#f5f500"/>
<use href="#k_ROU" fill="#99f000"/>
<use href="#k_MDA" fill="#ff8800"/>
<use href="#k_HUN" fill="#f5f500"/>
<use href="#k_SVK" fill="#f5f500"/>
<use href="#k_CZE" fill="#f5f500"/>
<use href="#k_POL" fill="#f5f500"/>
<use href="#k_RUK" fill="#38a508"/>
<use href="#k_LTU" fill="#99f000"/>
<use href="#k_LVA" fill="#99f000"/>
<use href="#k_EST" fill="#99f000"/>
<use href="#k_BLR" fill="#99f000"/>
<use href="#k_UKR" fill="#99f000"/>
<use href="#k_NOR" fill="#38a508"/>
<use href="#k_SWE" fill="#99f000"/>
<use href="#k_FIN" fill="#99f000"/>
<use href="#k_GBR" fill="#f5f500"/>
<use href="#k_GBR_1" fill="#f5f500"/>
<use href="#k_IRL" fill="#99f000"/>
<use href="#k_CYP" fill="#f5f500"/>
<use href="#k_TUR" fill="#f5f500"/>
<use href="#k_GEO" fill="#99f000"/>
<use href="#k_ARM" fill="#99f000"/>
<use href="#k_AZE" fill="#99f000"/>
<use href="#k_SYR" fill="#939393"/>
<use href="#k_LBN" fill="#939393"/>
<use href="#k_ISR" fill="#939393"/>
<use href="#k_JOR" fill="#939393"/>
<use href="#k_IRQ" fill="#939393"/>
<use href="#k_KWT" fill="#939393"/>
<use href="#k_SAU" fill="#939393"/>
<use href="#k_YEM" fill="#f5f500"/>
<use href="#k_OMN" fill="#939393"/>
<use href="#k_OMN_1" fill="#939393"/>
<use href="#k_ARE" fill="#939393"/>
<use href="#k_QAT" fill="#939393"/>
<use href="#k_IRN" fill="#99f000"/>
<use href="#k_AFG" fill="#99f000"/>
<use href="#k_PAK" fill="#99f000"/>
<use href="#k_TKM" fill="#939393"/>
<use href="#k_KAZ" fill="#f00000"/>
<use href="#k_UZB" fill="#99f000"/>
<use href="#k_KGZ" fill="#38a508"/>
<use href="#k_TJK" fill="#38a508"/>
<use href="#k_CHN" fill="#99f000"/>
<use href="#k_MNG" fill="#38a508"/>
<use href="#k_IND" fill="#38a508"/>
<use href="#k_NPL" fill="#99f000"/>
<use href="#k_BTN" fill="#38a508"/>
<use href="#k_BGD" fill="#38a508"/>
<use href="#k_LKA" fill="#f5f500"/>
<use href="#k_IDN" fill="#38a508"/>
<use href="#k_MMR" fill="#38a508"/>
<use href="#k_THA" fill="#99f000"/>
<use href="#k_LAO" fill="#38a508"/>
<use href="#k_VNM" fill="#38a508"/>
<use href="#k_KHM" fill="#99f000"/>
<use href="#k_MYS" fill="#fff" stroke-width="1.262"/>
<use href="#k_MYS_1" fill="#fff" stroke-width="1.262"/>
<use href="#k_PHL" fill="#fff" stroke-width="1.262"/>
<use href="#k_TWN" fill="#fff" stroke-width="1.262"/>
<use href="#k_PRK" fill="#fff" stroke-width="1.262"/>
<use href="#k_KOR" fill="#f5f500"/>
<use href="#k_JPN" fill="#f5f500"/>
<use href="#k_PNG" fill="#99f000"/>
<use href="#k_TLS" fill="#fff" stroke-width="1.262"/>
<use href="#k_AUS" fill="#99f000"/>
<use href="#k_NZL" fill="#38a508"/>
<use href="#k_SLB" fill="#fff" stroke-width="1.262"/>
<use href="#k_VUT" fill="#fff" stroke-width="1.262"/>
<use href="#k_NCL" fill="#fff" stroke-width="1.262"/>
<use href="#k_FJI" fill="#fff" stroke-width="1.262"/>
<use href="#k_MAR" fill="#f5f500"/>
<use href="#k_ESH" fill="#939393"/>
<use href="#k_DZA" fill="#939393"/>
<use href="#k_TUN" fill="#fff" stroke-width="1.262"/>
<use href="#k_LBY" fill="#939393"/>
<use href="#k_EGY" fill="#939393"/>
<use href="#k_MRT" fill="#939393"/>
<use href="#k_MLI" fill="#f00000"/>
<use href="#k_NER" fill="#939393"/>
<use href="#k_TCD" fill="#99f000"/>
<use href="#k_SDN" fill="#99f000"/>
<use href="#k_SSD" fill="#99f000"/>
<use href="#k_ERI" fill="#f00000"/>
<use href="#k_DJI" fill="#99f000"/>
<use href="#k_ETH" fill="#38a508"/>
<use href="#k_SOM" fill="#99f000"/>
<use href="#k_KEN" fill="#f5f500"/>
<use href="#k_UGA" fill="#38a508"/>
<use href="#k_RWA" fill="#38a508"/>
<use href="#k_BDI" fill="#38a508"/>
<use href="#k_TZA" fill="#38a508"/>
<use href="#k_COD" fill="#38a508"/>
<use href="#k_CAF" fill="#38a508"/>
<use href="#k_CMR" fill="#38a508"/>
<use href="#k_NGA" fill="#99f000"/>
<use href="#k_BEN" fill="#99f000"/>
<use href="#k_TGO" fill="#99f000"/>
<use href="#k_GHA" fill="#99f000"/>
<use href="#k_CIV" fill="#99f000"/>
<use href="#k_BFA" fill="#99f000"/>
<use href="#k_LBR" fill="#38a508"/>
<use href="#k_SLE" fill="#38a508"/>
<use href="#k_GIN" fill="#38a508"/>
<use href="#k_GNB" fill="#38a508"/>
<use href="#k_SEN" fill="#f00000"/>
<use href="#k_GMB" fill="#f00000"/>
<use href="#k_GAB" fill="#38a508"/>
<use href="#k_GNQ" fill="#38a508"/>
<use href="#k_COG" fill="#38a508"/>
<use href="#k_AGO" fill="#38a508"/>
<use href="#k_ZMB" fill="#38a508"/>
<use href="#k_MWI" fill="#38a508"/>
<use href="#k_MOZ" fill="#38a508"/>
<use href="#k_ZWE" fill="#38a508"/>
<use href="#k_NAM" fill="#99f000"/>
<use href="#k_BWA" fill="#939393"/>
<use href="#k_ZAF" fill="#f5f500"/>
<use href="#k_LSO" fill="#38a508"/>
<use href="#k_SWZ" fill="#38a508"/>
<use href="#k_MDG" fill="#38a508"/>
</g>
<use href="#heavy" fill="none" stroke="#000" stroke-width="1.165" stroke-linejoin="round" stroke-linecap="round"/>
<use href="#dots" fill="#8a8a8a" stroke="#8a8a8a" stroke-width="0.388"/>
<use href="#thick" fill="none" stroke="#000" stroke-width="0.971" stroke-linejoin="round"/>
<use href="#water" fill="#fff" stroke="#1e1e1e" stroke-width="0.534"/>
<use href="#land" fill="none" stroke="#000" stroke-width="0.667" stroke-linejoin="round"/>
</g>
<rect x="2.6" y="165.2" width="514.1" height="158.7" fill="none" stroke="#2b2b2b" stroke-width="1.8"/>
<line x1="3.6" y1="165.2" x2="515.7" y2="165.2" stroke="#7a7a7a" stroke-width="1.7"/>
<text class="lt" x="9.8" y="188.7" style="font-size:20.2px">b</text>
<text class="tt" x="12.8" y="225.9" textLength="109.2" lengthAdjust="spacingAndGlyphs">Blue Water Allowance</text>
<text class="tt" x="12.8" y="237.9" textLength="111.5" lengthAdjust="spacingAndGlyphs">(mm/mm; 2: 1996-2005)</text>
<rect x="15.15" y="249.55" width="18.9" height="8.9" fill="#f00000" stroke="#c80000" stroke-width="0.9"/>
<text class="lg" x="37.3" y="257.3" style="font-size:9.30px" textLength="28.01" lengthAdjust="spacingAndGlyphs">&lt; 0.00</text>
<rect x="15.15" y="263.02" width="18.9" height="8.9" fill="#ff8800" stroke="#d86800" stroke-width="0.9"/>
<text class="lg" x="37.3" y="270.77" style="font-size:9.30px" textLength="47.69" lengthAdjust="spacingAndGlyphs">0.01 - 1.00</text>
<rect x="15.15" y="276.49" width="18.9" height="8.9" fill="#f5f500" stroke="#c8c800" stroke-width="0.9"/>
<text class="lg" x="37.3" y="284.24" style="font-size:9.30px" textLength="53.24" lengthAdjust="spacingAndGlyphs">1.01 - 10.00</text>
<rect x="15.15" y="289.96" width="18.9" height="8.9" fill="#99f000" stroke="#70c000" stroke-width="0.9"/>
<text class="lg" x="37.3" y="297.71" style="font-size:9.30px" textLength="64.33" lengthAdjust="spacingAndGlyphs">10.01 - 100.00</text>
<rect x="15.15" y="303.43" width="18.9" height="8.9" fill="#38a508" stroke="#207a00" stroke-width="0.9"/>
<text class="lg" x="37.3" y="311.18" style="font-size:9.30px" textLength="39.10" lengthAdjust="spacingAndGlyphs">&gt; 100.00</text>
<g transform="translate(298.7 423.2) scale(1.03 -1.03)">
<use href="#land" fill="#38a508"/>
<g clip-path="url(#lc)" stroke="#050505" stroke-width="0.614" stroke-linejoin="round">
<use href="#k_CAN" fill="#38a508"/>
<use href="#k_USA" fill="#38a508"/>
<use href="#k_USA_1" fill="#38a508"/>
<use href="#k_USA_2" fill="#38a508"/>
<use href="#k_MEX" fill="#99f000"/>
<use href="#k_GTM" fill="#38a508"/>
<use href="#k_BLZ" fill="#38a508"/>
<use href="#k_HND" fill="#38a508"/>
<use href="#k_SLV" fill="#38a508"/>
<use href="#k_NIC" fill="#38a508"/>
<use href="#k_CRI" fill="#38a508"/>
<use href="#k_PAN" fill="#38a508"/>
<use href="#k_CUB" fill="#fff" stroke-width="1.262"/>
<use href="#k_HTI" fill="#38a508"/>
<use href="#k_DOM" fill="#38a508"/>
<use href="#k_JAM" fill="#38a508"/>
<use href="#k_PRI" fill="#38a508"/>
<use href="#k_GRL" fill="#38a508"/>
<use href="#k_ISL" fill="#38a508"/>
<use href="#k_BRA" fill="#38a508"/>
<use href="#k_COL" fill="#38a508"/>
<use href="#k_VEN" fill="#38a508"/>
<use href="#k_GUY" fill="#38a508"/>
<use href="#k_SUR" fill="#38a508"/>
<use href="#k_GUF" fill="#38a508"/>
<use href="#k_ECU" fill="#38a508"/>
<use href="#k_PER" fill="#38a508"/>
<use href="#k_BOL" fill="#38a508"/>
<use href="#k_PRY" fill="#38a508"/>
<use href="#k_URY" fill="#38a508"/>
<use href="#k_CHL" fill="#38a508"/>
<use href="#k_ARG" fill="#38a508"/>
<use href="#k_FLK" fill="#fff" stroke-width="1.262"/>
<use href="#k_RUS" fill="#38a508"/>
<use href="#k_RUS_1" fill="#38a508"/>
<use href="#k_USA_e" fill="#38a508"/>
<use href="#k_PRT" fill="#99f000"/>
<use href="#k_ESP" fill="#99f000"/>
<use href="#k_FRA" fill="#99f000"/>
<use href="#k_BEL" fill="#f5f500"/>
<use href="#k_LUX" fill="#f5f500"/>
<use href="#k_NLD" fill="#f5f500"/>
<use href="#k_DEU" fill="#f5f500"/>
<use href="#k_DNK" fill="#38a508"/>
<use href="#k_CHE" fill="#f5f500"/>
<use href="#k_AUT" fill="#f5f500"/>
<use href="#k_ITA" fill="#f5f500"/>
<use href="#k_FRC" fill="#99f000"/>
<use href="#k_SVN" fill="#99f000"/>
<use href="#k_HRV" fill="#99f000"/>
<use href="#k_BIH" fill="#99f000"/>
<use href="#k_SRB" fill="#38a508"/>
<use href="#k_ALB" fill="#99f000"/>
<use href="#k_MKD" fill="#99f000"/>
<use href="#k_GRC" fill="#99f000"/>
<use href="#k_BGR" fill="#99f000"/>
<use href="#k_ROU" fill="#99f000"/>
<use href="#k_MDA" fill="#38a508"/>
<use href="#k_HUN" fill="#99f000"/>
<use href="#k_SVK" fill="#99f000"/>
<use href="#k_CZE" fill="#99f000"/>
<use href="#k_POL" fill="#99f000"/>
<use href="#k_RUK" fill="#38a508"/>
<use href="#k_LTU" fill="#99f000"/>
<use href="#k_LVA" fill="#99f000"/>
<use href="#k_EST" fill="#99f000"/>
<use href="#k_BLR" fill="#38a508"/>
<use href="#k_UKR" fill="#38a508"/>
<use href="#k_NOR" fill="#99f000"/>
<use href="#k_SWE" fill="#99f000"/>
<use href="#k_FIN" fill="#38a508"/>
<use href="#k_GBR" fill="#f5f500"/>
<use href="#k_GBR_1" fill="#f5f500"/>
<use href="#k_IRL" fill="#38a508"/>
<use href="#k_CYP" fill="#99f000"/>
<use href="#k_TUR" fill="#99f000"/>
<use href="#k_GEO" fill="#38a508"/>
<use href="#k_ARM" fill="#38a508"/>
<use href="#k_AZE" fill="#38a508"/>
<use href="#k_SYR" fill="#939393"/>
<use href="#k_LBN" fill="#939393"/>
<use href="#k_ISR" fill="#939393"/>
<use href="#k_JOR" fill="#939393"/>
<use href="#k_IRQ" fill="#939393"/>
<use href="#k_KWT" fill="#939393"/>
<use href="#k_SAU" fill="#939393"/>
<use href="#k_YEM" fill="#99f000"/>
<use href="#k_OMN" fill="#939393"/>
<use href="#k_OMN_1" fill="#939393"/>
<use href="#k_ARE" fill="#939393"/>
<use href="#k_QAT" fill="#939393"/>
<use href="#k_IRN" fill="#38a508"/>
<use href="#k_AFG" fill="#38a508"/>
<use href="#k_PAK" fill="#99f000"/>
<use href="#k_TKM" fill="#939393"/>
<use href="#k_KAZ" fill="#38a508"/>
<use href="#k_UZB" fill="#38a508"/>
<use href="#k_KGZ" fill="#38a508"/>
<use href="#k_TJK" fill="#38a508"/>
<use href="#k_CHN" fill="#38a508"/>
<use href="#k_MNG" fill="#38a508"/>
<use href="#k_IND" fill="#38a508"/>
<use href="#k_NPL" fill="#38a508"/>
<use href="#k_BTN" fill="#38a508"/>
<use href="#k_BGD" fill="#99f000"/>
<use href="#k_LKA" fill="#99f000"/>
<use href="#k_IDN" fill="#38a508"/>
<use href="#k_MMR" fill="#38a508"/>
<use href="#k_THA" fill="#38a508"/>
<use href="#k_LAO" fill="#38a508"/>
<use href="#k_VNM" fill="#38a508"/>
<use href="#k_KHM" fill="#38a508"/>
<use href="#k_MYS" fill="#fff" stroke-width="1.262"/>
<use href="#k_MYS_1" fill="#fff" stroke-width="1.262"/>
<use href="#k_PHL" fill="#fff" stroke-width="1.262"/>
<use href="#k_TWN" fill="#fff" stroke-width="1.262"/>
<use href="#k_PRK" fill="#fff" stroke-width="1.262"/>
<use href="#k_KOR" fill="#f5f500"/>
<use href="#k_JPN" fill="#99f000"/>
<use href="#k_PNG" fill="#99f000"/>
<use href="#k_TLS" fill="#fff" stroke-width="1.262"/>
<use href="#k_AUS" fill="#38a508"/>
<use href="#k_NZL" fill="#38a508"/>
<use href="#k_SLB" fill="#fff" stroke-width="1.262"/>
<use href="#k_VUT" fill="#fff" stroke-width="1.262"/>
<use href="#k_NCL" fill="#fff" stroke-width="1.262"/>
<use href="#k_FJI" fill="#fff" stroke-width="1.262"/>
<use href="#k_MAR" fill="#99f000"/>
<use href="#k_ESH" fill="#939393"/>
<use href="#k_DZA" fill="#939393"/>
<use href="#k_TUN" fill="#fff" stroke-width="1.262"/>
<use href="#k_LBY" fill="#939393"/>
<use href="#k_EGY" fill="#939393"/>
<use href="#k_MRT" fill="#939393"/>
<use href="#k_MLI" fill="#38a508"/>
<use href="#k_NER" fill="#939393"/>
<use href="#k_TCD" fill="#38a508"/>
<use href="#k_SDN" fill="#38a508"/>
<use href="#k_SSD" fill="#38a508"/>
<use href="#k_ERI" fill="#99f000"/>
<use href="#k_DJI" fill="#38a508"/>
<use href="#k_ETH" fill="#38a508"/>
<use href="#k_SOM" fill="#38a508"/>
<use href="#k_KEN" fill="#38a508"/>
<use href="#k_UGA" fill="#38a508"/>
<use href="#k_RWA" fill="#38a508"/>
<use href="#k_BDI" fill="#38a508"/>
<use href="#k_TZA" fill="#38a508"/>
<use href="#k_COD" fill="#38a508"/>
<use href="#k_CAF" fill="#38a508"/>
<use href="#k_CMR" fill="#38a508"/>
<use href="#k_NGA" fill="#38a508"/>
<use href="#k_BEN" fill="#38a508"/>
<use href="#k_TGO" fill="#38a508"/>
<use href="#k_GHA" fill="#38a508"/>
<use href="#k_CIV" fill="#38a508"/>
<use href="#k_BFA" fill="#38a508"/>
<use href="#k_LBR" fill="#38a508"/>
<use href="#k_SLE" fill="#38a508"/>
<use href="#k_GIN" fill="#38a508"/>
<use href="#k_GNB" fill="#38a508"/>
<use href="#k_SEN" fill="#38a508"/>
<use href="#k_GMB" fill="#38a508"/>
<use href="#k_GAB" fill="#38a508"/>
<use href="#k_GNQ" fill="#38a508"/>
<use href="#k_COG" fill="#38a508"/>
<use href="#k_AGO" fill="#38a508"/>
<use href="#k_ZMB" fill="#38a508"/>
<use href="#k_MWI" fill="#38a508"/>
<use href="#k_MOZ" fill="#38a508"/>
<use href="#k_ZWE" fill="#38a508"/>
<use href="#k_NAM" fill="#38a508"/>
<use href="#k_BWA" fill="#939393"/>
<use href="#k_ZAF" fill="#38a508"/>
<use href="#k_LSO" fill="#38a508"/>
<use href="#k_SWZ" fill="#38a508"/>
<use href="#k_MDG" fill="#38a508"/>
</g>
<use href="#heavy" fill="none" stroke="#000" stroke-width="1.165" stroke-linejoin="round" stroke-linecap="round"/>
<use href="#dots" fill="#8a8a8a" stroke="#8a8a8a" stroke-width="0.388"/>
<use href="#thick" fill="none" stroke="#000" stroke-width="0.971" stroke-linejoin="round"/>
<use href="#water" fill="#fff" stroke="#1e1e1e" stroke-width="0.534"/>
<use href="#land" fill="none" stroke="#000" stroke-width="0.667" stroke-linejoin="round"/>
</g>
<rect x="0.7" y="330.2" width="515.8" height="157" fill="none" stroke="#2b2b2b" stroke-width="1.8"/>
<text class="lt" x="8.8" y="356.4" style="font-size:21.2px">c</text>
<text class="tt" x="13.6" y="387.8" textLength="114.2" lengthAdjust="spacingAndGlyphs">Blue Water Allowance</text>
<text class="tt" x="13.6" y="400" textLength="112.1" lengthAdjust="spacingAndGlyphs">(mm/mm; 1: 1996-2005)</text>
<rect x="14.35" y="412.55" width="20.2" height="9" fill="#f00000" stroke="#c80000" stroke-width="0.9"/>
<text class="lg" x="38.1" y="420.4" style="font-size:9.60px" textLength="28.84" lengthAdjust="spacingAndGlyphs">&lt; 0.00</text>
<rect x="14.35" y="426.65" width="20.2" height="9" fill="#ff8800" stroke="#d86800" stroke-width="0.9"/>
<text class="lg" x="38.1" y="434.5" style="font-size:9.60px" textLength="49.10" lengthAdjust="spacingAndGlyphs">0.01 - 1.00</text>
<rect x="14.35" y="440.75" width="20.2" height="9" fill="#f5f500" stroke="#c8c800" stroke-width="0.9"/>
<text class="lg" x="38.1" y="448.6" style="font-size:9.60px" textLength="54.81" lengthAdjust="spacingAndGlyphs">1.01 - 10.00</text>
<rect x="14.35" y="454.85" width="20.2" height="9" fill="#99f000" stroke="#70c000" stroke-width="0.9"/>
<text class="lg" x="38.1" y="462.7" style="font-size:9.60px" textLength="66.23" lengthAdjust="spacingAndGlyphs">10.01 - 100.00</text>
<rect x="14.35" y="468.95" width="20.2" height="9" fill="#38a508" stroke="#207a00" stroke-width="0.9"/>
<text class="lg" x="38.1" y="476.8" style="font-size:9.60px" textLength="40.26" lengthAdjust="spacingAndGlyphs">&gt; 100.00</text>
<g transform="translate(300.35 585.7) scale(1.03 -1.03)">
<use href="#land" fill="#38a508"/>
<g clip-path="url(#lc)" stroke="#050505" stroke-width="0.614" stroke-linejoin="round">
<use href="#k_CAN" fill="#38a508"/>
<use href="#k_USA" fill="#99f000"/>
<use href="#k_USA_1" fill="#99f000"/>
<use href="#k_USA_2" fill="#99f000"/>
<use href="#k_MEX" fill="#f5f500"/>
<use href="#k_GTM" fill="#99f000"/>
<use href="#k_BLZ" fill="#f5f500"/>
<use href="#k_HND" fill="#99f000"/>
<use href="#k_SLV" fill="#99f000"/>
<use href="#k_NIC" fill="#99f000"/>
<use href="#k_CRI" fill="#38a508"/>
<use href="#k_PAN" fill="#38a508"/>
<use href="#k_CUB" fill="#fff" stroke-width="1.262"/>
<use href="#k_HTI" fill="#38a508"/>
<use href="#k_DOM" fill="#f5f500"/>
<use href="#k_JAM" fill="#38a508"/>
<use href="#k_PRI" fill="#38a508"/>
<use href="#k_GRL" fill="#38a508"/>
<use href="#k_ISL" fill="#38a508"/>
<use href="#k_BRA" fill="#38a508"/>
<use href="#k_COL" fill="#38a508"/>
<use href="#k_VEN" fill="#38a508"/>
<use href="#k_GUY" fill="#38a508"/>
<use href="#k_SUR" fill="#38a508"/>
<use href="#k_GUF" fill="#38a508"/>
<use href="#k_ECU" fill="#38a508"/>
<use href="#k_PER" fill="#38a508"/>
<use href="#k_BOL" fill="#38a508"/>
<use href="#k_PRY" fill="#38a508"/>
<use href="#k_URY" fill="#99f000"/>
<use href="#k_CHL" fill="#38a508"/>
<use href="#k_ARG" fill="#38a508"/>
<use href="#k_FLK" fill="#fff" stroke-width="1.262"/>
<use href="#k_RUS" fill="#38a508"/>
<use href="#k_RUS_1" fill="#38a508"/>
<use href="#k_USA_e" fill="#99f000"/>
<use href="#k_PRT" fill="#f5f500"/>
<use href="#k_ESP" fill="#f5f500"/>
<use href="#k_FRA" fill="#f5f500"/>
<use href="#k_BEL" fill="#f00000"/>
<use href="#k_LUX" fill="#ff8800"/>
<use href="#k_NLD" fill="#f00000"/>
<use href="#k_DEU" fill="#ff8800"/>
<use href="#k_DNK" fill="#f5f500"/>
<use href="#k_CHE" fill="#f5f500"/>
<use href="#k_AUT" fill="#f5f500"/>
<use href="#k_ITA" fill="#f5f500"/>
<use href="#k_FRC" fill="#f5f500"/>
<use href="#k_SVN" fill="#f5f500"/>
<use href="#k_HRV" fill="#f5f500"/>
<use href="#k_BIH" fill="#f5f500"/>
<use href="#k_SRB" fill="#f5f500"/>
<use href="#k_ALB" fill="#f5f500"/>
<use href="#k_MKD" fill="#f5f500"/>
<use href="#k_GRC" fill="#f5f500"/>
<use href="#k_BGR" fill="#f5f500"/>
<use href="#k_ROU" fill="#f5f500"/>
<use href="#k_MDA" fill="#ff8800"/>
<use href="#k_HUN" fill="#f00000"/>
<use href="#k_SVK" fill="#f5f500"/>
<use href="#k_CZE" fill="#ff8800"/>
<use href="#k_POL" fill="#f5f500"/>
<use href="#k_RUK" fill="#38a508"/>
<use href="#k_LTU" fill="#f5f500"/>
<use href="#k_LVA" fill="#f5f500"/>
<use href="#k_EST" fill="#f5f500"/>
<use href="#k_BLR" fill="#f5f500"/>
<use href="#k_UKR" fill="#f5f500"/>
<use href="#k_NOR" fill="#99f000"/>
<use href="#k_SWE" fill="#99f000"/>
<use href="#k_FIN" fill="#99f000"/>
<use href="#k_GBR" fill="#f5f500"/>
<use href="#k_GBR_1" fill="#f5f500"/>
<use href="#k_IRL" fill="#99f000"/>
<use href="#k_CYP" fill="#f5f500"/>
<use href="#k_TUR" fill="#f5f500"/>
<use href="#k_GEO" fill="#f5f500"/>
<use href="#k_ARM" fill="#f5f500"/>
<use href="#k_AZE" fill="#f5f500"/>
<use href="#k_SYR" fill="#939393"/>
<use href="#k_LBN" fill="#939393"/>
<use href="#k_ISR" fill="#939393"/>
<use href="#k_JOR" fill="#939393"/>
<use href="#k_IRQ" fill="#939393"/>
<use href="#k_KWT" fill="#939393"/>
<use href="#k_SAU" fill="#939393"/>
<use href="#k_YEM" fill="#f5f500"/>
<use href="#k_OMN" fill="#939393"/>
<use href="#k_OMN_1" fill="#939393"/>
<use href="#k_ARE" fill="#939393"/>
<use href="#k_QAT" fill="#939393"/>
<use href="#k_IRN" fill="#99f000"/>
<use href="#k_AFG" fill="#38a508"/>
<use href="#k_PAK" fill="#99f000"/>
<use href="#k_TKM" fill="#939393"/>
<use href="#k_KAZ" fill="#f00000"/>
<use href="#k_UZB" fill="#f5f500"/>
<use href="#k_KGZ" fill="#38a508"/>
<use href="#k_TJK" fill="#38a508"/>
<use href="#k_CHN" fill="#99f000"/>
<use href="#k_MNG" fill="#99f000"/>
<use href="#k_IND" fill="#38a508"/>
<use href="#k_NPL" fill="#99f000"/>
<use href="#k_BTN" fill="#38a508"/>
<use href="#k_BGD" fill="#38a508"/>
<use href="#k_LKA" fill="#f5f500"/>
<use href="#k_IDN" fill="#38a508"/>
<use href="#k_MMR" fill="#38a508"/>
<use href="#k_THA" fill="#99f000"/>
<use href="#k_LAO" fill="#38a508"/>
<use href="#k_VNM" fill="#99f000"/>
<use href="#k_KHM" fill="#99f000"/>
<use href="#k_MYS" fill="#fff" stroke-width="1.262"/>
<use href="#k_MYS_1" fill="#fff" stroke-width="1.262"/>
<use href="#k_PHL" fill="#fff" stroke-width="1.262"/>
<use href="#k_TWN" fill="#fff" stroke-width="1.262"/>
<use href="#k_PRK" fill="#fff" stroke-width="1.262"/>
<use href="#k_KOR" fill="#ff8800"/>
<use href="#k_JPN" fill="#f5f500"/>
<use href="#k_PNG" fill="#38a508"/>
<use href="#k_TLS" fill="#fff" stroke-width="1.262"/>
<use href="#k_AUS" fill="#99f000"/>
<use href="#k_NZL" fill="#99f000"/>
<use href="#k_SLB" fill="#fff" stroke-width="1.262"/>
<use href="#k_VUT" fill="#fff" stroke-width="1.262"/>
<use href="#k_NCL" fill="#fff" stroke-width="1.262"/>
<use href="#k_FJI" fill="#fff" stroke-width="1.262"/>
<use href="#k_MAR" fill="#ff8800"/>
<use href="#k_ESH" fill="#939393"/>
<use href="#k_DZA" fill="#939393"/>
<use href="#k_TUN" fill="#fff" stroke-width="1.262"/>
<use href="#k_LBY" fill="#939393"/>
<use href="#k_EGY" fill="#939393"/>
<use href="#k_MRT" fill="#939393"/>
<use href="#k_MLI" fill="#f00000"/>
<use href="#k_NER" fill="#939393"/>
<use href="#k_TCD" fill="#99f000"/>
<use href="#k_SDN" fill="#99f000"/>
<use href="#k_SSD" fill="#99f000"/>
<use href="#k_ERI" fill="#f00000"/>
<use href="#k_DJI" fill="#38a508"/>
<use href="#k_ETH" fill="#38a508"/>
<use href="#k_SOM" fill="#99f000"/>
<use href="#k_KEN" fill="#99f000"/>
<use href="#k_UGA" fill="#38a508"/>
<use href="#k_RWA" fill="#38a508"/>
<use href="#k_BDI" fill="#38a508"/>
<use href="#k_TZA" fill="#38a508"/>
<use href="#k_COD" fill="#38a508"/>
<use href="#k_CAF" fill="#38a508"/>
<use href="#k_CMR" fill="#38a508"/>
<use href="#k_NGA" fill="#99f000"/>
<use href="#k_BEN" fill="#99f000"/>
<use href="#k_TGO" fill="#99f000"/>
<use href="#k_GHA" fill="#99f000"/>
<use href="#k_CIV" fill="#99f000"/>
<use href="#k_BFA" fill="#99f000"/>
<use href="#k_LBR" fill="#38a508"/>
<use href="#k_SLE" fill="#38a508"/>
<use href="#k_GIN" fill="#38a508"/>
<use href="#k_GNB" fill="#38a508"/>
<use href="#k_SEN" fill="#f00000"/>
<use href="#k_GMB" fill="#f00000"/>
<use href="#k_GAB" fill="#38a508"/>
<use href="#k_GNQ" fill="#38a508"/>
<use href="#k_COG" fill="#38a508"/>
<use href="#k_AGO" fill="#38a508"/>
<use href="#k_ZMB" fill="#38a508"/>
<use href="#k_MWI" fill="#38a508"/>
<use href="#k_MOZ" fill="#38a508"/>
<use href="#k_ZWE" fill="#99f000"/>
<use href="#k_NAM" fill="#99f000"/>
<use href="#k_BWA" fill="#939393"/>
<use href="#k_ZAF" fill="#f5f500"/>
<use href="#k_LSO" fill="#38a508"/>
<use href="#k_SWZ" fill="#38a508"/>
<use href="#k_MDG" fill="#38a508"/>
</g>
<use href="#heavy" fill="none" stroke="#000" stroke-width="1.165" stroke-linejoin="round" stroke-linecap="round"/>
<use href="#dots" fill="#8a8a8a" stroke="#8a8a8a" stroke-width="0.388"/>
<use href="#thick" fill="none" stroke="#000" stroke-width="0.971" stroke-linejoin="round"/>
<use href="#water" fill="#fff" stroke="#1e1e1e" stroke-width="0.534"/>
<use href="#land" fill="none" stroke="#000" stroke-width="0.667" stroke-linejoin="round"/>
</g>
<rect x="1.6" y="495" width="515.4" height="158" fill="none" stroke="#2b2b2b" stroke-width="1.8"/>
<text class="lt" x="10.2" y="519.6" style="font-size:20px">d</text>
<text class="tt" x="12.8" y="555.5" textLength="113" lengthAdjust="spacingAndGlyphs">Grey Water Allowance</text>
<text class="tt" x="12.8" y="568.3" textLength="100.6" lengthAdjust="spacingAndGlyphs">(mm/mm; 1996-2005)</text>
<rect x="13.55" y="579.35" width="18.3" height="8.5" fill="#f00000" stroke="#c80000" stroke-width="0.9"/>
<text class="lg" x="35.5" y="587" style="font-size:8.90px" textLength="26.40" lengthAdjust="spacingAndGlyphs">&lt; 0.00</text>
<rect x="13.55" y="592.28" width="18.3" height="8.5" fill="#ff8800" stroke="#d86800" stroke-width="0.9"/>
<text class="lg" x="35.5" y="599.93" style="font-size:8.90px" textLength="44.94" lengthAdjust="spacingAndGlyphs">0.01 - 1.00</text>
<rect x="13.55" y="605.21" width="18.3" height="8.5" fill="#f5f500" stroke="#c8c800" stroke-width="0.9"/>
<text class="lg" x="35.5" y="612.86" style="font-size:8.90px" textLength="50.17" lengthAdjust="spacingAndGlyphs">1.01 - 10.00</text>
<rect x="13.55" y="618.14" width="18.3" height="8.5" fill="#99f000" stroke="#70c000" stroke-width="0.9"/>
<text class="lg" x="35.5" y="625.79" style="font-size:8.90px" textLength="60.62" lengthAdjust="spacingAndGlyphs">10.01 - 100.00</text>
<rect x="13.55" y="631.07" width="18.3" height="8.5" fill="#38a508" stroke="#207a00" stroke-width="0.9"/>
<text class="lg" x="35.5" y="638.72" style="font-size:8.90px" textLength="36.85" lengthAdjust="spacingAndGlyphs">&gt; 100.00</text>
<g transform="translate(301.7 750.45) scale(1.03 -1.03)">
<use href="#land" fill="#38a508"/>
<g clip-path="url(#lc)" stroke="#050505" stroke-width="0.614" stroke-linejoin="round">
<use href="#k_CAN" fill="#99f000"/>
<use href="#k_USA" fill="#99f000"/>
<use href="#k_USA_1" fill="#99f000"/>
<use href="#k_USA_2" fill="#99f000"/>
<use href="#k_MEX" fill="#99f000"/>
<use href="#k_GTM" fill="#38a508"/>
<use href="#k_BLZ" fill="#38a508"/>
<use href="#k_HND" fill="#38a508"/>
<use href="#k_SLV" fill="#38a508"/>
<use href="#k_NIC" fill="#38a508"/>
<use href="#k_CRI" fill="#38a508"/>
<use href="#k_PAN" fill="#38a508"/>
<use href="#k_CUB" fill="#fff" stroke-width="1.262"/>
<use href="#k_HTI" fill="#38a508"/>
<use href="#k_DOM" fill="#38a508"/>
<use href="#k_JAM" fill="#38a508"/>
<use href="#k_PRI" fill="#38a508"/>
<use href="#k_GRL" fill="#38a508"/>
<use href="#k_ISL" fill="#99f000"/>
<use href="#k_BRA" fill="#38a508"/>
<use href="#k_COL" fill="#38a508"/>
<use href="#k_VEN" fill="#38a508"/>
<use href="#k_GUY" fill="#38a508"/>
<use href="#k_SUR" fill="#38a508"/>
<use href="#k_GUF" fill="#38a508"/>
<use href="#k_ECU" fill="#99f000"/>
<use href="#k_PER" fill="#38a508"/>
<use href="#k_BOL" fill="#38a508"/>
<use href="#k_PRY" fill="#38a508"/>
<use href="#k_URY" fill="#38a508"/>
<use href="#k_CHL" fill="#99f000"/>
<use href="#k_ARG" fill="#38a508"/>
<use href="#k_FLK" fill="#fff" stroke-width="1.262"/>
<use href="#k_RUS" fill="#99f000"/>
<use href="#k_RUS_1" fill="#99f000"/>
<use href="#k_USA_e" fill="#99f000"/>
<use href="#k_PRT" fill="#f5f500"/>
<use href="#k_ESP" fill="#f5f500"/>
<use href="#k_FRA" fill="#f5f500"/>
<use href="#k_BEL" fill="#f00000"/>
<use href="#k_LUX" fill="#f5f500"/>
<use href="#k_NLD" fill="#f00000"/>
<use href="#k_DEU" fill="#f5f500"/>
<use href="#k_DNK" fill="#ff8800"/>
<use href="#k_CHE" fill="#f5f500"/>
<use href="#k_AUT" fill="#f5f500"/>
<use href="#k_ITA" fill="#f5f500"/>
<use href="#k_FRC" fill="#f5f500"/>
<use href="#k_SVN" fill="#99f000"/>
<use href="#k_HRV" fill="#99f000"/>
<use href="#k_BIH" fill="#99f000"/>
<use href="#k_SRB" fill="#99f000"/>
<use href="#k_ALB" fill="#99f000"/>
<use href="#k_MKD" fill="#99f000"/>
<use href="#k_GRC" fill="#99f000"/>
<use href="#k_BGR" fill="#99f000"/>
<use href="#k_ROU" fill="#99f000"/>
<use href="#k_MDA" fill="#99f000"/>
<use href="#k_HUN" fill="#f5f500"/>
<use href="#k_SVK" fill="#f5f500"/>
<use href="#k_CZE" fill="#f5f500"/>
<use href="#k_POL" fill="#f5f500"/>
<use href="#k_RUK" fill="#99f000"/>
<use href="#k_LTU" fill="#99f000"/>
<use href="#k_LVA" fill="#99f000"/>
<use href="#k_EST" fill="#ff8800"/>
<use href="#k_BLR" fill="#99f000"/>
<use href="#k_UKR" fill="#99f000"/>
<use href="#k_NOR" fill="#99f000"/>
<use href="#k_SWE" fill="#99f000"/>
<use href="#k_FIN" fill="#99f000"/>
<use href="#k_GBR" fill="#f5f500"/>
<use href="#k_GBR_1" fill="#f5f500"/>
<use href="#k_IRL" fill="#f5f500"/>
<use href="#k_CYP" fill="#99f000"/>
<use href="#k_TUR" fill="#99f000"/>
<use href="#k_GEO" fill="#99f000"/>
<use href="#k_ARM" fill="#99f000"/>
<use href="#k_AZE" fill="#99f000"/>
<use href="#k_SYR" fill="#939393"/>
<use href="#k_LBN" fill="#939393"/>
<use href="#k_ISR" fill="#939393"/>
<use href="#k_JOR" fill="#939393"/>
<use href="#k_IRQ" fill="#939393"/>
<use href="#k_KWT" fill="#939393"/>
<use href="#k_SAU" fill="#939393"/>
<use href="#k_YEM" fill="#f5f500"/>
<use href="#k_OMN" fill="#939393"/>
<use href="#k_OMN_1" fill="#939393"/>
<use href="#k_ARE" fill="#939393"/>
<use href="#k_QAT" fill="#939393"/>
<use href="#k_IRN" fill="#99f000"/>
<use href="#k_AFG" fill="#99f000"/>
<use href="#k_PAK" fill="#99f000"/>
<use href="#k_TKM" fill="#939393"/>
<use href="#k_KAZ" fill="#38a508"/>
<use href="#k_UZB" fill="#99f000"/>
<use href="#k_KGZ" fill="#99f000"/>
<use href="#k_TJK" fill="#99f000"/>
<use href="#k_CHN" fill="#99f000"/>
<use href="#k_MNG" fill="#38a508"/>
<use href="#k_IND" fill="#99f000"/>
<use href="#k_NPL" fill="#99f000"/>
<use href="#k_BTN" fill="#38a508"/>
<use href="#k_BGD" fill="#ff8800"/>
<use href="#k_LKA" fill="#38a508"/>
<use href="#k_IDN" fill="#99f000"/>
<use href="#k_MMR" fill="#38a508"/>
<use href="#k_THA" fill="#99f000"/>
<use href="#k_LAO" fill="#38a508"/>
<use href="#k_VNM" fill="#99f000"/>
<use href="#k_KHM" fill="#99f000"/>
<use href="#k_MYS" fill="#fff" stroke-width="1.262"/>
<use href="#k_MYS_1" fill="#fff" stroke-width="1.262"/>
<use href="#k_PHL" fill="#fff" stroke-width="1.262"/>
<use href="#k_TWN" fill="#fff" stroke-width="1.262"/>
<use href="#k_PRK" fill="#fff" stroke-width="1.262"/>
<use href="#k_KOR" fill="#f5f500"/>
<use href="#k_JPN" fill="#f5f500"/>
<use href="#k_PNG" fill="#38a508"/>
<use href="#k_TLS" fill="#fff" stroke-width="1.262"/>
<use href="#k_AUS" fill="#38a508"/>
<use href="#k_NZL" fill="#99f000"/>
<use href="#k_SLB" fill="#fff" stroke-width="1.262"/>
<use href="#k_VUT" fill="#fff" stroke-width="1.262"/>
<use href="#k_NCL" fill="#fff" stroke-width="1.262"/>
<use href="#k_FJI" fill="#fff" stroke-width="1.262"/>
<use href="#k_MAR" fill="#f5f500"/>
<use href="#k_ESH" fill="#939393"/>
<use href="#k_DZA" fill="#939393"/>
<use href="#k_TUN" fill="#fff" stroke-width="1.262"/>
<use href="#k_LBY" fill="#939393"/>
<use href="#k_EGY" fill="#939393"/>
<use href="#k_MRT" fill="#939393"/>
<use href="#k_MLI" fill="#38a508"/>
<use href="#k_NER" fill="#939393"/>
<use href="#k_TCD" fill="#38a508"/>
<use href="#k_SDN" fill="#38a508"/>
<use href="#k_SSD" fill="#38a508"/>
<use href="#k_ERI" fill="#99f000"/>
<use href="#k_DJI" fill="#38a508"/>
<use href="#k_ETH" fill="#38a508"/>
<use href="#k_SOM" fill="#38a508"/>
<use href="#k_KEN" fill="#99f000"/>
<use href="#k_UGA" fill="#38a508"/>
<use href="#k_RWA" fill="#38a508"/>
<use href="#k_BDI" fill="#38a508"/>
<use href="#k_TZA" fill="#38a508"/>
<use href="#k_COD" fill="#38a508"/>
<use href="#k_CAF" fill="#38a508"/>
<use href="#k_CMR" fill="#38a508"/>
<use href="#k_NGA" fill="#99f000"/>
<use href="#k_BEN" fill="#99f000"/>
<use href="#k_TGO" fill="#99f000"/>
<use href="#k_GHA" fill="#99f000"/>
<use href="#k_CIV" fill="#38a508"/>
<use href="#k_BFA" fill="#38a508"/>
<use href="#k_LBR" fill="#38a508"/>
<use href="#k_SLE" fill="#99f000"/>
<use href="#k_GIN" fill="#38a508"/>
<use href="#k_GNB" fill="#38a508"/>
<use href="#k_SEN" fill="#99f000"/>
<use href="#k_GMB" fill="#99f000"/>
<use href="#k_GAB" fill="#38a508"/>
<use href="#k_GNQ" fill="#38a508"/>
<use href="#k_COG" fill="#38a508"/>
<use href="#k_AGO" fill="#38a508"/>
<use href="#k_ZMB" fill="#38a508"/>
<use href="#k_MWI" fill="#38a508"/>
<use href="#k_MOZ" fill="#38a508"/>
<use href="#k_ZWE" fill="#38a508"/>
<use href="#k_NAM" fill="#38a508"/>
<use href="#k_BWA" fill="#939393"/>
<use href="#k_ZAF" fill="#99f000"/>
<use href="#k_LSO" fill="#38a508"/>
<use href="#k_SWZ" fill="#38a508"/>
<use href="#k_MDG" fill="#38a508"/>
</g>
<use href="#heavy" fill="none" stroke="#000" stroke-width="1.165" stroke-linejoin="round" stroke-linecap="round"/>
<use href="#dots" fill="#8a8a8a" stroke="#8a8a8a" stroke-width="0.388"/>
<use href="#thick" fill="none" stroke="#000" stroke-width="0.971" stroke-linejoin="round"/>
<use href="#water" fill="#fff" stroke="#1e1e1e" stroke-width="0.534"/>
<use href="#land" fill="none" stroke="#000" stroke-width="0.667" stroke-linejoin="round"/>
</g>
<rect x="1.9" y="658.3" width="515.1" height="157.9" fill="none" stroke="#2b2b2b" stroke-width="1.8"/>
<text class="lt" x="10.2" y="682.7" style="font-size:21.2px">e</text>
<text class="tt" x="11.8" y="715.8" textLength="120.2" lengthAdjust="spacingAndGlyphs">Green Water Allowance</text>
<text class="tt" x="11.8" y="728.7" textLength="100.4" lengthAdjust="spacingAndGlyphs">(mm/mm; 1996-2005)</text>
<rect x="12.85" y="741.15" width="18.7" height="8.8" fill="#f00000" stroke="#c80000" stroke-width="0.9"/>
<text class="lg" x="35.5" y="749.1" style="font-size:9.20px" textLength="27.18" lengthAdjust="spacingAndGlyphs">&lt; 0.00</text>
<rect x="12.85" y="754.5" width="18.7" height="8.8" fill="#ff8800" stroke="#d86800" stroke-width="0.9"/>
<text class="lg" x="35.5" y="762.45" style="font-size:9.20px" textLength="46.28" lengthAdjust="spacingAndGlyphs">0.01 - 1.00</text>
<rect x="12.85" y="767.85" width="18.7" height="8.8" fill="#f5f500" stroke="#c8c800" stroke-width="0.9"/>
<text class="lg" x="35.5" y="775.8" style="font-size:9.20px" textLength="51.66" lengthAdjust="spacingAndGlyphs">1.01 - 10.00</text>
<rect x="12.85" y="781.2" width="18.7" height="8.8" fill="#99f000" stroke="#70c000" stroke-width="0.9"/>
<text class="lg" x="35.5" y="789.15" style="font-size:9.20px" textLength="62.43" lengthAdjust="spacingAndGlyphs">10.01 - 100.00</text>
<rect x="12.85" y="794.55" width="18.7" height="8.8" fill="#38a508" stroke="#207a00" stroke-width="0.9"/>
<text class="lg" x="35.5" y="802.5" style="font-size:9.20px" textLength="37.95" lengthAdjust="spacingAndGlyphs">&gt; 100.00</text>
</svg></body></html>
